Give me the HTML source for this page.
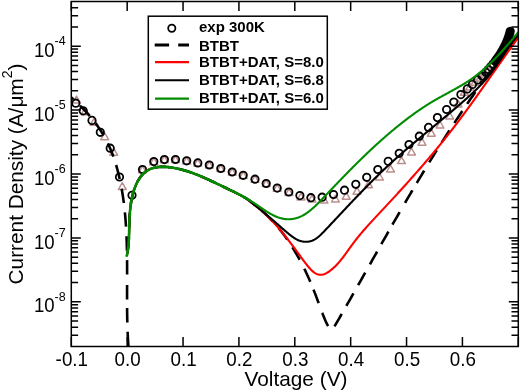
<!DOCTYPE html>
<html><head><meta charset="utf-8"><style>html,body{margin:0;padding:0;background:#fff;overflow:hidden}svg{display:block}</style></head>
<body>
<svg width="520" height="391" viewBox="0 0 520 391">
<rect width="520" height="391" fill="#fff"/>
<defs><clipPath id="cp"><rect x="71.3" y="1.5" width="447" height="345"/></clipPath></defs>
<g clip-path="url(#cp)" fill="none" stroke-linejoin="round">
<path d="M76.5,96.1 L80.4,102.9 L72.6,102.9 Z M85,107.9 L88.9,114.7 L81.1,114.7 Z M94,118.4 L97.9,125.2 L90.1,125.2 Z M104.7,132.9 L108.6,139.7 L100.8,139.7 Z M113.7,148.4 L117.6,155.2 L109.8,155.2 Z M122.3,182.6 L126.2,189.4 L118.4,189.4 Z M142.5,165.9 L146.4,172.7 L138.6,172.7 Z M153.8,157.9 L157.7,164.7 L149.9,164.7 Z M164.4,155.9 L168.3,162.7 L160.5,162.7 Z M175.5,155.8 L179.4,162.6 L171.6,162.6 Z M186.7,157.1 L190.6,163.9 L182.8,163.9 Z M197.8,159.2 L201.7,166 L193.9,166 Z M209.3,161.3 L213.2,168.1 L205.4,168.1 Z M220.8,164.8 L224.7,171.6 L216.9,171.6 Z M232.2,168.3 L236.1,175.1 L228.3,175.1 Z M243.2,171.6 L247.1,178.4 L239.3,178.4 Z M255,175.5 L258.9,182.3 L251.1,182.3 Z M266.2,179.8 L270.1,186.6 L262.3,186.6 Z M277.2,184.4 L281.1,191.2 L273.3,191.2 Z M289,188.6 L292.9,195.4 L285.1,195.4 Z M301,193.1 L304.9,199.9 L297.1,199.9 Z M312,195.2 L315.9,202 L308.1,202 Z M324,196.2 L327.9,203 L320.1,203 Z M335.4,195.2 L339.3,202 L331.5,202 Z M346.2,192.4 L350.1,199.2 L342.3,199.2 Z M357,187.4 L360.9,194.2 L353.1,194.2 Z M368.5,180.9 L372.4,187.7 L364.6,187.7 Z M379.5,173.2 L383.4,180 L375.6,180 Z M390.5,165.1 L394.4,171.9 L386.6,171.9 Z M401.5,156.8 L405.4,163.6 L397.6,163.6 Z M411.5,148.1 L415.4,154.9 L407.6,154.9 Z M422,138.4 L425.9,145.2 L418.1,145.2 Z M431.3,129.4 L435.2,136.2 L427.4,136.2 Z M440,121.2 L443.9,128 L436.1,128 Z M449.7,112.2 L453.6,119 L445.8,119 Z M458,100.1 L461.9,106.9 L454.1,106.9 Z M464.3,88.4 L468.2,95.2 L460.4,95.2 Z M469.8,83.1 L473.7,89.9 L465.9,89.9 Z M475,78.4 L478.9,85.2 L471.1,85.2 Z M480,74.1 L483.9,80.9 L476.1,80.9 Z M484.5,70.1 L488.4,76.9 L480.6,76.9 Z M488.5,65.8 L492.4,72.6 L484.6,72.6 Z M492.2,61.2 L496.1,68 L488.3,68 Z M495.6,56.6 L499.5,63.4 L491.7,63.4 Z M499,52.1 L502.9,58.9 L495.1,58.9 Z M502.5,47.1 L506.4,53.9 L498.6,53.9 Z M505.5,42.1 L509.4,48.9 L501.6,48.9 Z M508,37.1 L511.9,43.9 L504.1,43.9 Z" stroke="#bc8f8f" stroke-width="1.5"/>
<path d="M72.1,103.2 a3.7,3.7 0 1,0 7.4,0 a3.7,3.7 0 1,0 -7.4,0 M79.5,110.8 a3.7,3.7 0 1,0 7.4,0 a3.7,3.7 0 1,0 -7.4,0 M88.3,120.4 a3.7,3.7 0 1,0 7.4,0 a3.7,3.7 0 1,0 -7.4,0 M96.6,132.3 a3.7,3.7 0 1,0 7.4,0 a3.7,3.7 0 1,0 -7.4,0 M106.5,148.2 a3.7,3.7 0 1,0 7.4,0 a3.7,3.7 0 1,0 -7.4,0 M115.8,177 a3.7,3.7 0 1,0 7.4,0 a3.7,3.7 0 1,0 -7.4,0 M128.3,195.3 a3.7,3.7 0 1,0 7.4,0 a3.7,3.7 0 1,0 -7.4,0 M138.8,169.6 a3.7,3.7 0 1,0 7.4,0 a3.7,3.7 0 1,0 -7.4,0 M150.1,161.6 a3.7,3.7 0 1,0 7.4,0 a3.7,3.7 0 1,0 -7.4,0 M160.7,159.6 a3.7,3.7 0 1,0 7.4,0 a3.7,3.7 0 1,0 -7.4,0 M171.8,159.5 a3.7,3.7 0 1,0 7.4,0 a3.7,3.7 0 1,0 -7.4,0 M183,160.8 a3.7,3.7 0 1,0 7.4,0 a3.7,3.7 0 1,0 -7.4,0 M194.1,162.9 a3.7,3.7 0 1,0 7.4,0 a3.7,3.7 0 1,0 -7.4,0 M205.6,165 a3.7,3.7 0 1,0 7.4,0 a3.7,3.7 0 1,0 -7.4,0 M217.1,168.5 a3.7,3.7 0 1,0 7.4,0 a3.7,3.7 0 1,0 -7.4,0 M228.5,172 a3.7,3.7 0 1,0 7.4,0 a3.7,3.7 0 1,0 -7.4,0 M239.5,175.3 a3.7,3.7 0 1,0 7.4,0 a3.7,3.7 0 1,0 -7.4,0 M251.3,179.2 a3.7,3.7 0 1,0 7.4,0 a3.7,3.7 0 1,0 -7.4,0 M262.5,183.5 a3.7,3.7 0 1,0 7.4,0 a3.7,3.7 0 1,0 -7.4,0 M273.5,188.1 a3.7,3.7 0 1,0 7.4,0 a3.7,3.7 0 1,0 -7.4,0 M285.1,192 a3.7,3.7 0 1,0 7.4,0 a3.7,3.7 0 1,0 -7.4,0 M296.2,195.6 a3.7,3.7 0 1,0 7.4,0 a3.7,3.7 0 1,0 -7.4,0 M307.2,197.7 a3.7,3.7 0 1,0 7.4,0 a3.7,3.7 0 1,0 -7.4,0 M318.4,197.2 a3.7,3.7 0 1,0 7.4,0 a3.7,3.7 0 1,0 -7.4,0 M329.8,194.5 a3.7,3.7 0 1,0 7.4,0 a3.7,3.7 0 1,0 -7.4,0 M340.8,190.2 a3.7,3.7 0 1,0 7.4,0 a3.7,3.7 0 1,0 -7.4,0 M352.1,184.3 a3.7,3.7 0 1,0 7.4,0 a3.7,3.7 0 1,0 -7.4,0 M363,177.3 a3.7,3.7 0 1,0 7.4,0 a3.7,3.7 0 1,0 -7.4,0 M374.1,169.5 a3.7,3.7 0 1,0 7.4,0 a3.7,3.7 0 1,0 -7.4,0 M384.5,161.3 a3.7,3.7 0 1,0 7.4,0 a3.7,3.7 0 1,0 -7.4,0 M395.5,153.3 a3.7,3.7 0 1,0 7.4,0 a3.7,3.7 0 1,0 -7.4,0 M405.3,144.5 a3.7,3.7 0 1,0 7.4,0 a3.7,3.7 0 1,0 -7.4,0 M415.6,136.2 a3.7,3.7 0 1,0 7.4,0 a3.7,3.7 0 1,0 -7.4,0 M424.8,127.4 a3.7,3.7 0 1,0 7.4,0 a3.7,3.7 0 1,0 -7.4,0 M433.7,117.6 a3.7,3.7 0 1,0 7.4,0 a3.7,3.7 0 1,0 -7.4,0 M442.9,109.5 a3.7,3.7 0 1,0 7.4,0 a3.7,3.7 0 1,0 -7.4,0 M450.1,102 a3.7,3.7 0 1,0 7.4,0 a3.7,3.7 0 1,0 -7.4,0 M457.2,94.6 a3.7,3.7 0 1,0 7.4,0 a3.7,3.7 0 1,0 -7.4,0 M463.6,88.9 a3.7,3.7 0 1,0 7.4,0 a3.7,3.7 0 1,0 -7.4,0 M468.7,84.4 a3.7,3.7 0 1,0 7.4,0 a3.7,3.7 0 1,0 -7.4,0 M473.8,79.9 a3.7,3.7 0 1,0 7.4,0 a3.7,3.7 0 1,0 -7.4,0 M478.3,76.1 a3.7,3.7 0 1,0 7.4,0 a3.7,3.7 0 1,0 -7.4,0 M482.1,72.3 a3.7,3.7 0 1,0 7.4,0 a3.7,3.7 0 1,0 -7.4,0 M484.52,69.59 a3.7,3.7 0 1,0 7.4,0 a3.7,3.7 0 1,0 -7.4,0 M486.9,66.85 a3.7,3.7 0 1,0 7.4,0 a3.7,3.7 0 1,0 -7.4,0 M489.23,64.05 a3.7,3.7 0 1,0 7.4,0 a3.7,3.7 0 1,0 -7.4,0 M491.48,61.19 a3.7,3.7 0 1,0 7.4,0 a3.7,3.7 0 1,0 -7.4,0 M492.64,59.63 a3.7,3.7 0 1,0 7.4,0 a3.7,3.7 0 1,0 -7.4,0 M493.78,58.05 a3.7,3.7 0 1,0 7.4,0 a3.7,3.7 0 1,0 -7.4,0 M494.48,57.06 a3.7,3.7 0 1,0 7.4,0 a3.7,3.7 0 1,0 -7.4,0 M495.03,56.26 a3.7,3.7 0 1,0 7.4,0 a3.7,3.7 0 1,0 -7.4,0 M495.7,55.25 a3.7,3.7 0 1,0 7.4,0 a3.7,3.7 0 1,0 -7.4,0 M496.36,54.24 a3.7,3.7 0 1,0 7.4,0 a3.7,3.7 0 1,0 -7.4,0 M496.89,53.42 a3.7,3.7 0 1,0 7.4,0 a3.7,3.7 0 1,0 -7.4,0 M497.52,52.39 a3.7,3.7 0 1,0 7.4,0 a3.7,3.7 0 1,0 -7.4,0 M498.03,51.56 a3.7,3.7 0 1,0 7.4,0 a3.7,3.7 0 1,0 -7.4,0 M498.64,50.52 a3.7,3.7 0 1,0 7.4,0 a3.7,3.7 0 1,0 -7.4,0 M499.12,49.68 a3.7,3.7 0 1,0 7.4,0 a3.7,3.7 0 1,0 -7.4,0 M499.71,48.62 a3.7,3.7 0 1,0 7.4,0 a3.7,3.7 0 1,0 -7.4,0 M500.17,47.77 a3.7,3.7 0 1,0 7.4,0 a3.7,3.7 0 1,0 -7.4,0 M500.73,46.69 a3.7,3.7 0 1,0 7.4,0 a3.7,3.7 0 1,0 -7.4,0 M501.16,45.83 a3.7,3.7 0 1,0 7.4,0 a3.7,3.7 0 1,0 -7.4,0 M501.69,44.74 a3.7,3.7 0 1,0 7.4,0 a3.7,3.7 0 1,0 -7.4,0 M502.21,43.65 a3.7,3.7 0 1,0 7.4,0 a3.7,3.7 0 1,0 -7.4,0 M502.6,42.77 a3.7,3.7 0 1,0 7.4,0 a3.7,3.7 0 1,0 -7.4,0 M503.08,41.66 a3.7,3.7 0 1,0 7.4,0 a3.7,3.7 0 1,0 -7.4,0 M503.46,40.76 a3.7,3.7 0 1,0 7.4,0 a3.7,3.7 0 1,0 -7.4,0 M503.9,39.64 a3.7,3.7 0 1,0 7.4,0 a3.7,3.7 0 1,0 -7.4,0 M504.25,38.73 a3.7,3.7 0 1,0 7.4,0 a3.7,3.7 0 1,0 -7.4,0 M504.66,37.59 a3.7,3.7 0 1,0 7.4,0 a3.7,3.7 0 1,0 -7.4,0 M504.98,36.68 a3.7,3.7 0 1,0 7.4,0 a3.7,3.7 0 1,0 -7.4,0 M505.35,35.52 a3.7,3.7 0 1,0 7.4,0 a3.7,3.7 0 1,0 -7.4,0 M505.64,34.59 a3.7,3.7 0 1,0 7.4,0 a3.7,3.7 0 1,0 -7.4,0 M505.98,33.42 a3.7,3.7 0 1,0 7.4,0 a3.7,3.7 0 1,0 -7.4,0 M506.23,32.48 a3.7,3.7 0 1,0 7.4,0 a3.7,3.7 0 1,0 -7.4,0 M506.53,31.29 a3.7,3.7 0 1,0 7.4,0 a3.7,3.7 0 1,0 -7.4,0 M506.53,31.29 a3.7,3.7 0 1,0 7.4,0 a3.7,3.7 0 1,0 -7.4,0" stroke="#000" stroke-width="1.8"/>
<path d="M70.8,97.03 L71.31,97.48 L71.82,97.93 L72.33,98.38 L72.84,98.83 L73.32,99.27 M80.01,105.58 L80.25,105.82 L80.73,106.3 L81.21,106.78 L81.69,107.26 L82.16,107.75 L82.64,108.24 L83.11,108.72 L83.58,109.21 L84.05,109.7 L84.51,110.2 L84.97,110.69 L85.43,111.19 L85.89,111.69 L86.35,112.19 L86.8,112.69 L87.26,113.19 L87.71,113.7 L88.15,114.2 L88.6,114.71 L89.04,115.22 L89.48,115.73 L89.81,116.12 M95.56,123.3 L95.79,123.61 L96.19,124.15 L96.59,124.69 L96.98,125.24 L97.37,125.78 L97.76,126.33 L98.14,126.87 L98.52,127.42 L98.9,127.97 L99.28,128.53 L99.65,129.08 L100.02,129.64 L100.39,130.19 L100.75,130.75 L101.11,131.31 L101.47,131.88 L101.82,132.44 L102.17,133.01 L102.52,133.58 L102.86,134.14 L103.2,134.72 L103.54,135.28 M107.86,143.4 L107.9,143.49 L108.18,144.08 L108.46,144.68 L108.74,145.28 L109.02,145.88 L109.29,146.49 L109.56,147.09 L109.83,147.7 L110.09,148.31 L110.36,148.91 L110.61,149.52 L110.87,150.14 L111.12,150.75 L111.37,151.36 L111.61,151.98 L111.86,152.59 L112.1,153.21 L112.34,153.83 L112.57,154.45 L112.8,155.07 L113.03,155.69 L113.26,156.32 L113.39,156.69 M116.12,165.07 L116.15,165.14 L116.33,165.78 L116.52,166.42 L116.7,167.06 L116.88,167.7 L117.06,168.34 L117.24,168.98 L117.41,169.62 L117.58,170.26 L117.75,170.91 L117.92,171.55 L118.09,172.19 L118.25,172.84 L118.41,173.48 L118.57,174.13 L118.73,174.78 L118.88,175.42 L119.04,176.07 L119.19,176.72 L119.34,177.37 L119.48,178.01 L119.63,178.66 L119.71,179.01 M121.64,188.7 L121.71,189.09 L121.83,189.75 L121.94,190.4 L122.06,191.06 L122.17,191.72 L122.28,192.37 L122.38,193.03 L122.49,193.68 L122.6,194.34 L122.7,195 L122.8,195.66 L122.9,196.31 L123,196.97 L123.09,197.63 L123.19,198.29 L123.28,198.95 L123.38,199.61 L123.47,200.27 L123.56,200.93 L123.64,201.59 L123.73,202.25 L123.82,202.91 L123.82,202.93 M124.88,212.37 L124.93,212.85 L124.99,213.51 L125.05,214.18 L125.12,214.84 L125.18,215.51 L125.23,216.17 L125.29,216.84 L125.35,217.5 L125.4,218.17 L125.46,218.84 L125.51,219.5 L125.56,220.17 L125.62,220.84 L125.67,221.5 L125.71,222.17 L125.76,222.84 L125.81,223.5 L125.85,224.17 L125.9,224.84 L125.94,225.51 L125.98,226.18 L126.02,226.72 M126.51,236.21 L126.51,236.22 L126.53,236.89 L126.56,237.56 L126.59,238.23 L126.61,238.9 L126.64,239.57 L126.66,240.24 L126.68,240.91 L126.71,241.59 L126.73,242.26 L126.75,242.93 L126.77,243.6 L126.79,244.27 L126.81,244.94 L126.82,245.62 L126.84,246.29 L126.86,246.96 L126.87,247.63 L126.89,248.3 L126.9,248.98 L126.92,249.65 L126.93,250.32 L126.94,250.6 M127.06,260.1 L127.07,260.42 L127.07,261.09 L127.08,261.76 L127.08,262.44 L127.09,263.11 L127.09,263.78 L127.09,264.46 L127.1,265.13 L127.1,265.8 L127.1,266.48 L127.1,267.15 L127.11,267.82 L127.11,268.5 L127.11,269.17 L127.11,269.84 L127.11,270.52 L127.11,271.19 L127.11,271.86 L127.11,272.54 L127.11,273.21 L127.11,273.88 L127.11,274.5 M127.09,285.05 L127.09,285.32 L127.08,285.99 L127.08,286.67 L127.08,287.34 L127.08,288.01 L127.08,288.68 L127.07,289.35 L127.07,290.03 L127.07,290.7 L127.07,291.37 L127.07,292.04 L127.07,292.71 L127.07,293.38 L127.06,294.05 L127.06,294.73 L127.06,295.4 L127.06,296.07 L127.06,296.74 L127.06,297.41 L127.06,298.08 L127.06,298.75 L127.06,299.42 L127.06,299.45 M127.1,308.1 L127.1,308.12 L127.1,308.79 L127.11,309.46 L127.12,310.12 L127.12,310.79 L127.13,311.46 L127.14,312.13 L127.15,312.79 L127.15,313.46 L127.16,314.13 L127.17,314.79 L127.18,315.46 L127.19,316.13 L127.2,316.79 L127.22,317.46 L127.23,318.12 L127.24,318.79 L127.25,319.45 L127.27,320.12 L127.28,320.78 L127.3,321.45 L127.31,322.11 L127.32,322.49 M127.62,331.69 L127.63,332.05 L127.66,332.71 L127.69,333.37 L127.72,334.03 L127.75,334.69 L127.78,335.35 L127.81,336.01 L127.84,336.66 L127.88,337.32 L127.91,337.98 L127.95,338.64 L127.98,339.3 L128.02,339.95 L128.06,340.61 L128.1,341.27 L128.14,341.92 L128.18,342.58 L128.22,343.23 L128.26,343.89 L128.31,344.54 L128.35,345.2 L128.4,345.85 L128.42,346.07 M127.64,251.25 L127.66,251.13 L127.75,250.54 L127.84,249.95 L127.92,249.36 L127.99,248.78 L128.07,248.19 L128.14,247.6 L128.21,247 L128.27,246.41 L128.33,245.82 L128.39,245.23 L128.44,244.63 L128.5,244.04 L128.55,243.44 L128.59,242.85 L128.64,242.25 L128.68,241.65 L128.72,241.06 L128.76,240.46 L128.79,239.86 L128.83,239.26 L128.86,238.66 L128.89,238.06 L128.92,237.46 L128.94,236.92 M129.24,227.72 L129.25,227.16 L129.27,226.55 L129.28,225.94 L129.3,225.33 L129.32,224.71 L129.34,224.1 L129.35,223.49 L129.37,222.88 L129.39,222.26 L129.41,221.65 L129.43,221.03 L129.46,220.42 L129.48,219.8 L129.51,219.19 L129.53,218.57 L129.56,217.96 L129.59,217.34 L129.63,216.72 L129.66,216.1 L129.7,215.49 L129.73,214.87 L129.77,214.25 L129.82,213.63 L129.84,213.34 M130.8,204.19 L130.88,203.68 L130.98,203.06 L131.08,202.43 L131.18,201.81 L131.29,201.19 L131.4,200.56 L131.52,199.93 L131.64,199.31 L131.77,198.68 L131.9,198.06 L132.03,197.43 L132.17,196.8 L132.32,196.18 L132.47,195.55 L132.63,194.93 L132.79,194.3 L132.96,193.67 L133.13,193.05 L133.31,192.43 L133.49,191.81 L133.68,191.19 L133.87,190.57 L134,190.17 M137.53,181.68 L137.77,181.23 L138.06,180.7 L138.36,180.17 L138.67,179.65 L138.99,179.13 L139.31,178.62 L139.64,178.13 L139.97,177.64 L140.31,177.16 L140.66,176.69 L141.01,176.22 L141.38,175.77 L141.75,175.33 L142.12,174.9 L142.5,174.48 L142.89,174.07 L143.29,173.67 L143.7,173.28 L144.11,172.9 L144.53,172.54 L144.95,172.18 L145.38,171.84 L145.83,171.52 L146.27,171.2 L146.73,170.9 L146.78,170.86 M155.3,167.53 L155.41,167.51 L155.97,167.4 L156.53,167.31 L157.09,167.22 L157.66,167.14 L158.24,167.08 L158.81,167.02 L159.4,166.96 L159.98,166.92 L160.57,166.89 L161.16,166.86 L161.75,166.84 L162.35,166.83 L162.94,166.83 L163.55,166.84 L164.15,166.85 L164.75,166.87 L165.36,166.9 L165.97,166.93 L166.58,166.97 L167.19,167.02 L167.81,167.07 L168.42,167.13 L169.04,167.2 L169.64,167.27 M178.69,168.9 L178.91,168.95 L179.52,169.1 L180.13,169.25 L180.74,169.4 L181.35,169.56 L181.95,169.71 L182.56,169.88 L183.16,170.04 L183.76,170.21 L184.36,170.38 L184.96,170.56 L185.55,170.73 L186.15,170.91 L186.74,171.1 L187.34,171.28 L187.93,171.47 L188.52,171.66 L189.11,171.86 L189.7,172.05 L190.28,172.25 L190.87,172.46 L191.45,172.66 L192.04,172.87 L192.48,173.02 M201.04,176.38 L201.23,176.46 L201.79,176.7 L202.36,176.94 L202.92,177.18 L203.49,177.43 L204.05,177.67 L204.61,177.92 L205.17,178.17 L205.73,178.42 L206.29,178.67 L206.85,178.92 L207.41,179.17 L207.96,179.43 L208.52,179.68 L209.08,179.94 L209.63,180.19 L210.18,180.45 L210.74,180.71 L211.29,180.96 L211.84,181.22 L212.39,181.48 L212.94,181.74 L213.49,182 L214.04,182.27 L214.16,182.32 M222.45,186.31 L222.76,186.46 L223.3,186.72 L223.85,186.98 L224.39,187.24 L224.93,187.5 L225.47,187.76 L226.01,188.02 L226.55,188.28 L227.08,188.54 L227.62,188.8 L228.16,189.06 L228.7,189.31 L229.24,189.57 L229.77,189.83 L230.31,190.09 L230.85,190.35 L231.38,190.62 L231.92,190.88 L232.45,191.14 L232.99,191.4 L233.52,191.66 L234.06,191.93 L234.59,192.19 L235.13,192.46 L235.4,192.6 M243.56,196.85 L243.81,196.99 L244.33,197.3 L244.85,197.61 L245.38,197.93 L245.9,198.26 L246.42,198.6 L246.94,198.94 L247.45,199.3 L247.97,199.66 L248.48,200.04 L249,200.42 L249.51,200.81 L250.02,201.2 L250.53,201.61 L251.04,202.02 L251.54,202.44 L252.05,202.86 L252.55,203.28 L253.06,203.7 L253.56,204.13 L254.07,204.56 L254.57,204.98 L255.07,205.4 L255.1,205.43 M262.26,211.19 L262.61,211.49 L263.12,211.92 L263.62,212.36 L264.13,212.81 L264.63,213.27 L265.13,213.73 L265.63,214.21 L266.12,214.69 L266.62,215.18 L267.11,215.68 L267.6,216.18 L268.09,216.69 L268.58,217.2 L269.06,217.71 L269.55,218.22 L270.03,218.72 L270.51,219.21 L270.99,219.71 L271.47,220.21 L271.94,220.71 L272.42,221.21 L272.5,221.3 M278.64,228.15 L278.65,228.16 L278.9,228.45 L279.15,228.75 L279.41,229.05 L279.66,229.35 L279.91,229.65 L280.16,229.95 L280.41,230.25 L280.66,230.55 L280.91,230.86 L281.15,231.16 L281.4,231.47 L281.65,231.78 L281.89,232.09 L282.14,232.4 L282.38,232.71 L282.62,233.02 L282.86,233.34 L283.11,233.65 L283.35,233.97 L283.59,234.29 L283.83,234.61 L284.06,234.93 L284.3,235.26 L284.54,235.58 L284.78,235.91 L285.01,236.24 L285.25,236.57 L285.48,236.9 L285.71,237.23 L285.95,237.57 L286.18,237.9 L286.41,238.24 L286.64,238.58 L286.87,238.92 L287.1,239.26 L287.33,239.6 L287.34,239.62 M292.38,247.31 L292.4,247.33 L292.61,247.67 L292.82,248.01 L293.03,248.34 L293.24,248.68 L293.45,249.02 L293.66,249.35 L293.87,249.69 L294.08,250.03 L294.28,250.37 L294.49,250.71 L294.69,251.05 L294.9,251.39 L295.1,251.73 L295.31,252.07 L295.51,252.41 L295.71,252.75 L295.91,253.09 L296.11,253.43 L296.31,253.77 L296.51,254.11 L296.71,254.46 L296.91,254.8 L297.11,255.14 L297.31,255.48 L297.5,255.83 L297.7,256.17 L297.89,256.52 L298.09,256.86 L298.28,257.21 L298.48,257.55 L298.67,257.9 L298.86,258.24 L299.05,258.59 L299.24,258.94 L299.43,259.28 L299.62,259.63 L299.68,259.73 M304.34,268.73 L304.35,268.76 L304.52,269.11 L304.7,269.47 L304.87,269.82 L305.04,270.18 L305.22,270.54 L305.39,270.89 L305.56,271.25 L305.73,271.61 L305.9,271.96 L306.07,272.32 L306.24,272.68 L306.4,273.04 L306.57,273.39 L306.74,273.75 L306.91,274.11 L307.07,274.47 L307.24,274.83 L307.4,275.19 L307.57,275.55 L307.73,275.91 L307.9,276.27 L308.06,276.63 L308.22,276.99 L308.38,277.35 L308.55,277.71 L308.71,278.08 L308.87,278.44 L309.03,278.8 L309.19,279.16 L309.35,279.52 L309.51,279.89 L309.66,280.25 L309.82,280.61 L309.98,280.98 L310.14,281.34 L310.29,281.71 L310.34,281.82 M313.57,289.65 L313.62,289.78 L313.77,290.15 L313.91,290.52 L314.06,290.89 L314.2,291.26 L314.35,291.63 L314.49,292 L314.63,292.37 L314.78,292.74 L314.92,293.11 L315.06,293.48 L315.2,293.85 L315.35,294.23 L315.49,294.6 L315.63,294.97 L315.77,295.34 L315.91,295.72 L316.05,296.09 L316.19,296.46 L316.33,296.84 L316.46,297.21 L316.6,297.58 L316.74,297.96 L316.88,298.33 L317.01,298.71 L317.15,299.08 L317.29,299.45 L317.43,299.83 L317.56,300.2 L317.7,300.58 L317.83,300.95 L317.97,301.33 L318.11,301.7 L318.24,302.08 L318.38,302.45 L318.51,302.83 L318.62,303.13 M322.24,312.91 L322.25,312.92 L322.39,313.29 L322.54,313.66 L322.68,314.04 L322.83,314.41 L322.98,314.78 L323.12,315.14 L323.27,315.51 L323.42,315.88 L323.57,316.25 L323.72,316.62 L323.87,316.99 L324.02,317.35 L324.18,317.72 L324.33,318.09 L324.48,318.45 L324.64,318.82 L324.8,319.18 L324.95,319.55 L325.11,319.91 L325.27,320.28 L325.43,320.64 L325.59,321 L325.76,321.36 L325.92,321.72 L326.08,322.08 L326.25,322.44 L326.42,322.8 L326.59,323.16 L326.76,323.52 L326.93,323.88 L327.1,324.24 L327.27,324.59 L327.45,324.95 L327.62,325.3 L327.8,325.66 L327.98,326.01 L328.02,326.09 M334.5,326.43 L334.63,326.21 L335.07,325.45 L335.52,324.68 L335.96,323.91 L336.41,323.15 L336.85,322.38 L337.3,321.61 L337.74,320.85 L338.18,320.08 L338.63,319.31 L339.07,318.55 L339.51,317.78 L339.96,317.01 L340.4,316.24 L340.84,315.48 L341.28,314.71 L341.71,313.96 M346.34,305.89 L346.58,305.48 L347.02,304.71 L347.46,303.94 L347.9,303.17 L348.34,302.4 L348.78,301.63 L349.22,300.86 L349.65,300.09 L350.09,299.32 L350.53,298.55 L350.97,297.78 L351.41,297.01 L351.85,296.24 L352.29,295.47 L352.73,294.7 L353.16,293.93 L353.47,293.38 M358.11,285.21 L358.41,284.68 L358.85,283.9 L359.29,283.13 L359.73,282.36 L360.16,281.59 L360.6,280.82 L361.04,280.05 L361.47,279.27 L361.91,278.5 L362.35,277.73 L362.78,276.96 L363.22,276.19 L363.65,275.41 L364.09,274.64 L364.53,273.87 L364.96,273.1 L365.2,272.67 M369.96,264.26 L370.2,263.83 L370.64,263.06 L371.07,262.29 L371.51,261.52 L371.94,260.74 L372.38,259.97 L372.82,259.2 L373.25,258.43 L373.69,257.65 L374.13,256.88 L374.56,256.11 L375,255.34 L375.44,254.57 L375.87,253.79 L376.31,253.02 L376.75,252.25 L377.04,251.73 M381.34,244.14 L381.56,243.76 L381.99,242.99 L382.43,242.22 L382.87,241.45 L383.31,240.68 L383.74,239.9 L384.18,239.13 L384.62,238.36 L385.06,237.59 L385.5,236.82 L385.94,236.05 L386.38,235.28 L386.81,234.51 L387.25,233.74 L387.69,232.97 L388.13,232.2 L388.46,231.63 M392.45,224.64 L392.53,224.5 L392.97,223.73 L393.41,222.96 L393.86,222.19 L394.3,221.42 L394.74,220.65 L395.18,219.88 L395.62,219.11 L396.06,218.34 L396.51,217.58 L396.95,216.81 L397.39,216.04 L397.84,215.27 L398.28,214.5 L398.72,213.73 L399.17,212.97 L399.61,212.2 L399.63,212.16 M405.08,202.78 L405.4,202.23 L405.85,201.47 L406.3,200.7 L406.74,199.94 L407.19,199.17 L407.64,198.41 L408.09,197.64 L408.54,196.88 L408.99,196.11 L409.43,195.35 L409.88,194.59 L410.33,193.82 L410.78,193.06 L411.24,192.29 L411.69,191.53 L412.14,190.77 L412.37,190.37 M416.75,183.01 L417.12,182.39 L417.57,181.63 L418.03,180.87 L418.49,180.11 L418.94,179.35 L419.4,178.59 L419.85,177.83 L420.31,177.07 L420.77,176.31 L421.23,175.55 L421.68,174.79 L422.14,174.03 L422.6,173.27 L423.06,172.52 L423.52,171.76 L423.98,171 L424.18,170.67 M429.23,162.43 L429.53,161.93 L430,161.18 L430.46,160.42 L430.93,159.67 L431.39,158.92 L431.86,158.16 L432.33,157.41 L432.79,156.66 L433.26,155.9 L433.73,155.15 L434.2,154.4 L434.67,153.65 L435.14,152.9 L435.61,152.15 L436.08,151.4 L436.55,150.65 L436.83,150.2 M441.71,142.48 L441.75,142.41 L442.23,141.66 L442.71,140.91 L443.18,140.17 L443.66,139.42 L444.14,138.67 L444.62,137.93 L445.09,137.18 L445.57,136.44 L446.05,135.69 L446.53,134.95 L447.01,134.2 L447.49,133.46 L447.98,132.72 L448.46,131.97 L448.94,131.23 L449.42,130.49 L449.5,130.37 M454.36,122.95 L454.76,122.34 L455.25,121.6 L455.74,120.86 L456.23,120.12 L456.72,119.38 L457.21,118.64 L457.7,117.91 L458.19,117.17 L458.69,116.43 L459.18,115.7 L459.67,114.96 L460.17,114.22 L460.66,113.49 L461.15,112.75 L461.65,112.02 L462.15,111.28 L462.36,110.97 M467.19,103.87 L467.63,103.23 L468.13,102.5 L468.64,101.77 L469.14,101.04 L469.64,100.31 L470.15,99.58 L470.65,98.85 L471.16,98.12 L471.66,97.39 L472.17,96.67 L472.68,95.94 L473.18,95.21 L473.69,94.49 L474.2,93.76 L474.71,93.03 L475.22,92.31 L475.41,92.04 M480.73,84.54 L480.86,84.35 L481.38,83.63 L481.9,82.91 L482.41,82.19 L482.93,81.47 L483.45,80.75 L483.97,80.03 L484.49,79.32 L485.01,78.6 L485.53,77.88 L486.06,77.16 L486.58,76.45 L487.1,75.73 L487.62,75.01 L488.15,74.3 L488.67,73.58 L489.19,72.88 M494.67,65.49 L495.02,65.03 L495.55,64.32 L496.09,63.61 L496.62,62.9 L497.16,62.19 L497.69,61.48 L498.23,60.77 L498.77,60.06 L499.3,59.36 L499.84,58.65 L500.38,57.94 L500.92,57.24 L501.46,56.53 L502,55.83 L502.54,55.12 L503.09,54.42 L503.39,54.03 M509.04,46.77 L509.09,46.7 L509.64,46 L510.19,45.3 L510.75,44.61 L511.3,43.91 L511.85,43.21 L512.4,42.51 L512.96,41.82 L513.51,41.12 L514.07,40.43 L514.63,39.73 L515.18,39.04 L515.74,38.34 L516.3,37.65 L516.86,36.96 L517.42,36.26 L517.98,35.57 L518.02,35.52" stroke="#000" stroke-width="2.6" stroke-linecap="butt"/>
<path d="M126.81,255.8 L126.93,255.22 L127.05,254.64 L127.16,254.05 L127.27,253.47 L127.37,252.89 L127.47,252.3 L127.57,251.71 L127.66,251.13 L127.75,250.54 L127.84,249.95 L127.92,249.36 L127.99,248.78 L128.07,248.19 L128.14,247.6 L128.21,247 L128.27,246.41 L128.33,245.82 L128.39,245.23 L128.44,244.63 L128.5,244.04 L128.55,243.44 L128.59,242.85 L128.64,242.25 L128.68,241.65 L128.72,241.06 L128.76,240.46 L128.79,239.86 L128.83,239.26 L128.86,238.66 L128.89,238.06 L128.92,237.46 L128.95,236.86 L128.97,236.26 L129,235.65 L129.02,235.05 L129.04,234.45 L129.06,233.84 L129.08,233.24 L129.1,232.63 L129.12,232.02 L129.14,231.42 L129.16,230.81 L129.17,230.2 L129.19,229.6 L129.2,228.99 L129.22,228.38 L129.24,227.77 L129.25,227.16 L129.27,226.55 L129.28,225.94 L129.3,225.33 L129.32,224.71 L129.34,224.1 L129.35,223.49 L129.37,222.88 L129.39,222.26 L129.41,221.65 L129.43,221.03 L129.46,220.42 L129.48,219.8 L129.51,219.19 L129.53,218.57 L129.56,217.96 L129.59,217.34 L129.63,216.72 L129.66,216.1 L129.7,215.49 L129.73,214.87 L129.77,214.25 L129.82,213.63 L129.86,213.01 L129.91,212.39 L129.96,211.77 L130.01,211.15 L130.06,210.53 L130.12,209.91 L130.18,209.29 L130.25,208.67 L130.31,208.04 L130.38,207.42 L130.46,206.8 L130.53,206.18 L130.61,205.55 L130.7,204.93 L130.79,204.31 L130.88,203.68 L130.98,203.06 L131.08,202.43 L131.18,201.81 L131.29,201.19 L131.4,200.56 L131.52,199.93 L131.64,199.31 L131.77,198.68 L131.9,198.06 L132.03,197.43 L132.17,196.8 L132.32,196.18 L132.47,195.55 L132.63,194.93 L132.79,194.3 L132.96,193.67 L133.13,193.05 L133.31,192.43 L133.49,191.81 L133.68,191.19 L133.87,190.57 L134.07,189.96 L134.28,189.35 L134.49,188.74 L134.7,188.13 L134.92,187.53 L135.15,186.93 L135.39,186.34 L135.63,185.75 L135.87,185.17 L136.12,184.59 L136.38,184.01 L136.65,183.45 L136.92,182.88 L137.19,182.33 L137.48,181.78 L137.77,181.23 L138.06,180.7 L138.36,180.17 L138.67,179.65 L138.99,179.13 L139.31,178.62 L139.64,178.13 L139.97,177.64 L140.31,177.16 L140.66,176.69 L141.01,176.22 L141.38,175.77 L141.75,175.33 L142.12,174.9 L142.5,174.48 L142.89,174.07 L143.29,173.67 L143.7,173.28 L144.11,172.9 L144.53,172.54 L144.95,172.18 L145.38,171.84 L145.83,171.52 L146.27,171.2 L146.73,170.9 L147.19,170.61 L147.66,170.33 L148.13,170.06 L148.62,169.81 L149.11,169.57 L149.6,169.34 L150.1,169.12 L150.61,168.91 L151.12,168.71 L151.64,168.52 L152.16,168.35 L152.69,168.18 L153.22,168.03 L153.76,167.88 L154.31,167.75 L154.86,167.62 L155.41,167.51 L155.97,167.4 L156.53,167.31 L157.09,167.22 L157.66,167.14 L158.24,167.08 L158.81,167.02 L159.4,166.96 L159.98,166.92 L160.57,166.89 L161.16,166.86 L161.75,166.84 L162.35,166.83 L162.94,166.83 L163.55,166.84 L164.15,166.85 L164.75,166.87 L165.36,166.9 L165.97,166.93 L166.58,166.97 L167.19,167.02 L167.81,167.07 L168.42,167.13 L169.04,167.2 L169.65,167.27 L170.27,167.35 L170.89,167.43 L171.51,167.52 L172.13,167.61 L172.75,167.71 L173.37,167.82 L173.98,167.92 L174.6,168.04 L175.22,168.16 L175.84,168.28 L176.46,168.41 L177.07,168.54 L177.69,168.67 L178.3,168.81 L178.91,168.95 L179.52,169.1 L180.13,169.25 L180.74,169.4 L181.35,169.56 L181.95,169.71 L182.56,169.88 L183.16,170.04 L183.76,170.21 L184.36,170.38 L184.96,170.56 L185.55,170.73 L186.15,170.91 L186.74,171.1 L187.34,171.28 L187.93,171.47 L188.52,171.66 L189.11,171.86 L189.7,172.05 L190.28,172.25 L190.87,172.46 L191.45,172.66 L192.04,172.87 L192.62,173.08 L193.2,173.29 L193.78,173.5 L194.36,173.72 L194.94,173.93 L195.52,174.15 L196.09,174.38 L196.67,174.6 L197.24,174.83 L197.81,175.06 L198.38,175.28 L198.95,175.52 L199.52,175.75 L200.09,175.98 L200.66,176.22 L201.23,176.46 L201.79,176.7 L202.36,176.94 L202.92,177.18 L203.49,177.43 L204.05,177.67 L204.61,177.92 L205.17,178.17 L205.73,178.42 L206.29,178.67 L206.85,178.92 L207.41,179.17 L207.96,179.43 L208.52,179.68 L209.08,179.94 L209.63,180.19 L210.18,180.45 L210.74,180.71 L211.29,180.96 L211.84,181.22 L212.39,181.48 L212.94,181.74 L213.49,182 L214.04,182.27 L214.59,182.53 L215.14,182.79 L215.69,183.05 L216.24,183.31 L216.78,183.58 L217.33,183.84 L217.87,184.1 L218.42,184.36 L218.96,184.63 L219.51,184.89 L220.05,185.15 L220.59,185.41 L221.14,185.68 L221.68,185.94 L222.22,186.2 L222.76,186.46 L223.3,186.72 L223.85,186.98 L224.39,187.24 L224.93,187.5 L225.47,187.76 L226.01,188.02 L226.55,188.28 L227.08,188.54 L227.62,188.8 L228.16,189.06 L228.7,189.31 L229.24,189.57 L229.77,189.83 L230.31,190.09 L230.85,190.35 L231.38,190.62 L231.92,190.88 L232.45,191.14 L232.99,191.4 L233.52,191.66 L234.06,191.93 L234.59,192.19 L235.13,192.46 L235.66,192.72 L236.19,192.99 L236.73,193.26 L237.26,193.53 L237.79,193.8 L238.32,194.07 L238.85,194.35 L239.39,194.62 L239.92,194.9 L240.45,195.17 L240.98,195.45 L241.51,195.73 L242.22,196.11 L242.75,196.4 L243.28,196.69 L243.81,196.99 L244.33,197.3 L244.85,197.61 L245.38,197.93 L245.9,198.26 L246.42,198.6 L246.94,198.94 L247.45,199.3 L247.97,199.66 L248.48,200.04 L249,200.42 L249.51,200.81 L250.02,201.2 L250.53,201.61 L251.04,202.02 L251.54,202.44 L252.05,202.86 L252.55,203.28 L253.06,203.7 L253.56,204.13 L254.07,204.56 L254.57,204.98 L255.07,205.4 L255.57,205.82 L256.07,206.23 L256.56,206.63 L257.06,207.02 L257.56,207.41 L258.05,207.8 L258.55,208.19 L259.05,208.58 L259.54,208.98 L260.05,209.39 L260.56,209.8 L261.08,210.22 L261.59,210.64 L262.1,211.06 L262.61,211.49 L263.12,211.92 L263.62,212.36 L264.13,212.81 L264.63,213.27 L265.13,213.73 L265.63,214.21 L266.12,214.69 L266.62,215.18 L267.11,215.68 L267.6,216.18 L268.09,216.69 L268.58,217.2 L269.06,217.71 L269.55,218.22 L270.03,218.72 L270.51,219.21 L270.99,219.71 L271.47,220.21 L271.94,220.71 L272.42,221.21 L272.89,221.72 L273.36,222.22 L273.83,222.73 L274.3,223.24 L274.76,223.75 L275.23,224.27 L275.69,224.78 L276.15,225.3 L276.61,225.82 L277.07,226.34 L277.53,226.86 L277.98,227.39 L278.44,227.91 L278.89,228.44 L279.34,228.96 L279.79,229.49 L280.24,230.02 L280.69,230.56 L281.13,231.09 L281.58,231.62 L282.02,232.16 L282.46,232.7 L282.9,233.23 L283.34,233.77 L283.78,234.31 L284.21,234.85 L284.65,235.39 L285.08,235.94 L285.51,236.48 L285.95,237.02 L286.38,237.57 L286.8,238.11 L287.23,238.66 L287.66,239.2 L288.08,239.75 L288.51,240.3 L288.93,240.85 L289.35,241.4 L289.77,241.95 L290.19,242.5 L290.61,243.05 L291.03,243.6 L291.44,244.15 L291.86,244.7 L292.27,245.25 L292.69,245.8 L293.1,246.35 L293.51,246.9 L293.92,247.45 L294.33,248 L294.74,248.55 L295.15,249.11 L295.55,249.66 L295.96,250.21 L296.36,250.76 L296.77,251.31 L297.17,251.86 L297.57,252.41 L297.97,252.96 L298.37,253.51 L298.77,254.05 L299.17,254.6 L299.57,255.15 L299.96,255.7 L300.36,256.24 L300.75,256.79 L301.15,257.33 L301.54,257.88 L301.94,258.42 L302.34,258.97 L302.74,259.51 L303.14,260.05 L303.54,260.6 L303.95,261.14 L304.36,261.69 L304.77,262.24 L305.19,262.78 L305.61,263.33 L306.04,263.88 L306.48,264.43 L306.92,264.98 L307.37,265.53 L307.82,266.09 L308.29,266.65 L308.76,267.2 L309.24,267.76 L309.73,268.31 L310.22,268.85 L310.72,269.39 L311.24,269.91 L311.76,270.42 L312.28,270.91 L312.82,271.38 L313.36,271.83 L313.91,272.26 L314.46,272.66 L315.03,273.03 L315.6,273.37 L316.18,273.67 L316.76,273.94 L317.35,274.18 L317.94,274.37 L318.54,274.54 L319.15,274.66 L319.75,274.74 L320.36,274.79 L320.96,274.8 L321.57,274.77 L322.17,274.69 L322.77,274.58 L323.37,274.43 L323.97,274.24 L324.56,274.02 L325.15,273.77 L325.74,273.49 L326.32,273.18 L326.9,272.86 L327.47,272.51 L328.03,272.15 L328.59,271.78 L329.15,271.39 L329.69,271 L330.23,270.6 L330.77,270.19 L331.3,269.77 L331.82,269.34 L332.34,268.91 L332.85,268.47 L333.35,268.02 L333.85,267.57 L334.35,267.11 L334.84,266.64 L335.33,266.16 L335.81,265.68 L336.28,265.2 L336.76,264.7 L337.22,264.21 L337.69,263.7 L338.15,263.2 L338.6,262.68 L339.06,262.17 L339.51,261.64 L339.95,261.12 L340.39,260.59 L340.83,260.05 L341.27,259.51 L341.7,258.97 L342.14,258.43 L342.56,257.88 L342.99,257.33 L343.42,256.77 L343.84,256.21 L344.26,255.65 L344.68,255.09 L345.09,254.53 L345.51,253.96 L345.92,253.4 L346.34,252.83 L346.75,252.26 L347.16,251.69 L347.57,251.12 L347.98,250.55 L348.39,249.97 L348.8,249.4 L349.21,248.83 L349.62,248.26 L350.03,247.68 L350.44,247.11 L350.85,246.54 L351.26,245.97 L351.67,245.4 L352.09,244.84 L352.5,244.27 L352.92,243.71 L353.33,243.15 L353.75,242.59 L354.17,242.03 L354.59,241.47 L355.02,240.92 L355.44,240.37 L355.87,239.82 L356.3,239.27 L356.73,238.73 L357.16,238.19 L357.59,237.65 L358.02,237.11 L358.46,236.57 L358.89,236.04 L359.33,235.5 L359.77,234.97 L360.21,234.44 L360.65,233.91 L361.09,233.39 L361.54,232.86 L361.98,232.34 L362.43,231.81 L362.87,231.29 L363.32,230.77 L363.77,230.26 L364.22,229.74 L364.67,229.22 L365.12,228.71 L365.57,228.2 L366.03,227.68 L366.48,227.17 L366.94,226.66 L367.39,226.15 L367.85,225.65 L368.31,225.14 L368.76,224.63 L369.22,224.13 L369.68,223.62 L370.14,223.12 L370.6,222.62 L371.06,222.11 L371.53,221.61 L371.99,221.11 L372.45,220.61 L372.91,220.11 L373.38,219.61 L373.84,219.11 L374.3,218.61 L374.77,218.12 L375.23,217.62 L375.7,217.12 L376.16,216.62 L376.63,216.12 L377.09,215.63 L377.56,215.13 L378.03,214.63 L378.49,214.13 L378.96,213.64 L379.42,213.14 L379.89,212.64 L380.36,212.14 L380.82,211.65 L381.29,211.15 L381.75,210.65 L382.22,210.15 L382.69,209.65 L383.15,209.15 L383.62,208.65 L384.08,208.15 L384.55,207.65 L385.02,207.15 L385.48,206.66 L385.95,206.15 L386.41,205.65 L386.88,205.15 L387.34,204.65 L387.81,204.15 L388.27,203.65 L388.74,203.15 L389.2,202.65 L389.67,202.15 L390.13,201.64 L390.6,201.14 L391.06,200.64 L391.53,200.14 L391.99,199.63 L392.46,199.13 L392.92,198.63 L393.38,198.12 L393.85,197.62 L394.31,197.12 L394.78,196.61 L395.24,196.11 L395.7,195.6 L396.17,195.1 L396.63,194.59 L397.09,194.09 L397.55,193.58 L398.02,193.08 L398.48,192.57 L398.94,192.06 L399.4,191.56 L399.87,191.05 L400.33,190.54 L400.79,190.04 L401.25,189.53 L401.71,189.02 L402.17,188.51 L402.64,188 L403.1,187.5 L403.56,186.99 L404.02,186.48 L404.48,185.97 L404.94,185.46 L405.4,184.95 L405.86,184.44 L406.32,183.93 L406.78,183.42 L407.23,182.91 L407.69,182.4 L408.15,181.89 L408.61,181.37 L409.07,180.86 L409.53,180.35 L409.98,179.84 L410.44,179.32 L410.9,178.81 L411.36,178.3 L411.81,177.79 L412.27,177.27 L412.72,176.76 L413.18,176.24 L413.64,175.73 L414.09,175.21 L414.55,174.7 L415,174.18 L415.46,173.67 L415.91,173.15 L416.36,172.64 L416.82,172.12 L417.27,171.6 L417.73,171.09 L418.18,170.57 L418.63,170.05 L419.08,169.53 L419.53,169.02 L419.99,168.5 L420.44,167.98 L420.89,167.46 L421.34,166.94 L421.79,166.42 L422.24,165.9 L422.69,165.38 L423.14,164.86 L423.59,164.34 L424.04,163.82 L424.49,163.3 L424.93,162.78 L425.38,162.25 L425.83,161.73 L426.28,161.21 L426.72,160.69 L427.17,160.16 L427.61,159.64 L428.06,159.12 L428.51,158.59 L428.95,158.07 L429.39,157.54 L429.84,157.02 L430.28,156.49 L430.73,155.97 L431.17,155.44 L431.61,154.92 L432.05,154.39 L432.5,153.86 L432.94,153.34 L433.38,152.81 L433.82,152.28 L434.26,151.75 L434.7,151.22 L435.14,150.69 L435.58,150.17 L436.01,149.64 L436.45,149.11 L436.89,148.58 L437.33,148.05 L437.76,147.51 L438.2,146.98 L438.64,146.45 L439.07,145.92 L439.51,145.39 L439.94,144.86 L440.38,144.32 L440.81,143.79 L441.24,143.26 L441.67,142.72 L442.11,142.19 L442.54,141.65 L442.97,141.12 L443.4,140.58 L443.83,140.05 L444.26,139.51 L444.69,138.98 L445.12,138.44 L445.55,137.9 L445.97,137.36 L446.4,136.83 L446.83,136.29 L447.25,135.75 L447.68,135.21 L448.11,134.67 L448.53,134.13 L448.95,133.59 L449.38,133.05 L449.8,132.51 L450.22,131.97 L450.65,131.43 L451.07,130.89 L451.49,130.35 L451.91,129.8 L452.33,129.26 L452.75,128.72 L453.17,128.17 L453.59,127.63 L454,127.09 L454.42,126.54 L454.84,126 L455.26,125.45 L455.67,124.91 L456.09,124.36 L456.5,123.81 L456.92,123.27 L457.33,122.72 L457.74,122.17 L458.16,121.63 L458.57,121.08 L458.98,120.53 L459.4,119.98 L459.81,119.43 L460.22,118.89 L460.63,118.34 L461.04,117.79 L461.45,117.24 L461.86,116.69 L462.27,116.14 L462.68,115.59 L463.08,115.04 L463.49,114.48 L463.9,113.93 L464.31,113.38 L464.71,112.83 L465.12,112.28 L465.53,111.73 L465.93,111.17 L466.34,110.62 L466.74,110.07 L467.15,109.51 L467.55,108.96 L467.96,108.41 L468.36,107.85 L468.76,107.3 L469.17,106.74 L469.57,106.19 L469.97,105.63 L470.37,105.08 L470.78,104.52 L471.18,103.97 L471.58,103.41 L471.98,102.86 L472.38,102.3 L472.78,101.74 L473.18,101.19 L473.58,100.63 L473.98,100.07 L474.38,99.52 L474.78,98.96 L475.18,98.4 L475.58,97.85 L475.98,97.29 L476.38,96.73 L476.77,96.17 L477.17,95.61 L477.57,95.06 L477.97,94.5 L478.36,93.94 L478.76,93.38 L479.16,92.82 L479.56,92.26 L479.95,91.7 L480.35,91.14 L480.74,90.59 L481.14,90.03 L481.54,89.47 L481.93,88.91 L482.33,88.35 L482.72,87.79 L483.12,87.23 L483.51,86.67 L483.91,86.11 L484.3,85.55 L484.7,84.99 L485.09,84.43 L485.49,83.86 L485.88,83.3 L486.28,82.74 L486.67,82.18 L487.07,81.62 L487.46,81.06 L487.85,80.5 L488.25,79.94 L488.64,79.38 L489.04,78.82 L489.43,78.26 L489.82,77.69 L490.22,77.13 L490.61,76.57 L491.01,76.01 L491.4,75.45 L491.79,74.89 L492.19,74.33 L492.58,73.76 L492.97,73.2 L493.37,72.64 L493.76,72.08 L494.15,71.52 L494.55,70.96 L494.94,70.4 L495.33,69.83 L495.73,69.27 L496.12,68.71 L496.52,68.15 L496.91,67.59 L497.3,67.03 L497.7,66.47 L498.09,65.9 L498.48,65.34 L498.88,64.78 L499.27,64.22 L499.67,63.66 L500.06,63.1 L500.46,62.54 L500.85,61.97 L501.24,61.41 L501.64,60.85 L502.03,60.29 L502.43,59.73 L502.82,59.17 L503.22,58.61 L503.61,58.05 L504.01,57.49 L504.4,56.93 L504.8,56.37 L505.19,55.81 L505.59,55.25 L505.99,54.69 L506.38,54.13 L506.78,53.57 L507.18,53.01 L507.57,52.45 L507.97,51.89 L508.37,51.33 L508.76,50.77 L509.16,50.21 L509.56,49.65 L509.96,49.09 L510.35,48.53 L510.75,47.97 L511.15,47.41 L511.55,46.85 L511.95,46.29 L512.35,45.74 L512.75,45.18 L513.15,44.62 L513.55,44.06 L513.95,43.5 L514.35,42.95 L514.75,42.39 L515.15,41.83 L515.55,41.28 L515.95,40.72 L516.35,40.16 L516.75,39.61 L517.16,39.05 L517.56,38.49 L517.96,37.94 L518.36,37.38 L518.77,36.83" stroke="#ff0000" stroke-width="2.1"/>
<path d="M126.81,255.8 L126.93,255.22 L127.05,254.64 L127.16,254.05 L127.27,253.47 L127.37,252.89 L127.47,252.3 L127.57,251.71 L127.66,251.13 L127.75,250.54 L127.84,249.95 L127.92,249.36 L127.99,248.78 L128.07,248.19 L128.14,247.6 L128.21,247 L128.27,246.41 L128.33,245.82 L128.39,245.23 L128.44,244.63 L128.5,244.04 L128.55,243.44 L128.59,242.85 L128.64,242.25 L128.68,241.65 L128.72,241.06 L128.76,240.46 L128.79,239.86 L128.83,239.26 L128.86,238.66 L128.89,238.06 L128.92,237.46 L128.95,236.86 L128.97,236.26 L129,235.65 L129.02,235.05 L129.04,234.45 L129.06,233.84 L129.08,233.24 L129.1,232.63 L129.12,232.02 L129.14,231.42 L129.16,230.81 L129.17,230.2 L129.19,229.6 L129.2,228.99 L129.22,228.38 L129.24,227.77 L129.25,227.16 L129.27,226.55 L129.28,225.94 L129.3,225.33 L129.32,224.71 L129.34,224.1 L129.35,223.49 L129.37,222.88 L129.39,222.26 L129.41,221.65 L129.43,221.03 L129.46,220.42 L129.48,219.8 L129.51,219.19 L129.53,218.57 L129.56,217.96 L129.59,217.34 L129.63,216.72 L129.66,216.1 L129.7,215.49 L129.73,214.87 L129.77,214.25 L129.82,213.63 L129.86,213.01 L129.91,212.39 L129.96,211.77 L130.01,211.15 L130.06,210.53 L130.12,209.91 L130.18,209.29 L130.25,208.67 L130.31,208.04 L130.38,207.42 L130.46,206.8 L130.53,206.18 L130.61,205.55 L130.7,204.93 L130.79,204.31 L130.88,203.68 L130.98,203.06 L131.08,202.43 L131.18,201.81 L131.29,201.19 L131.4,200.56 L131.52,199.93 L131.64,199.31 L131.77,198.68 L131.9,198.06 L132.03,197.43 L132.17,196.8 L132.32,196.18 L132.47,195.55 L132.63,194.93 L132.79,194.3 L132.96,193.67 L133.13,193.05 L133.31,192.43 L133.49,191.81 L133.68,191.19 L133.87,190.57 L134.07,189.96 L134.28,189.35 L134.49,188.74 L134.7,188.13 L134.92,187.53 L135.15,186.93 L135.39,186.34 L135.63,185.75 L135.87,185.17 L136.12,184.59 L136.38,184.01 L136.65,183.45 L136.92,182.88 L137.19,182.33 L137.48,181.78 L137.77,181.23 L138.06,180.7 L138.36,180.17 L138.67,179.65 L138.99,179.13 L139.31,178.62 L139.64,178.13 L139.97,177.64 L140.31,177.16 L140.66,176.69 L141.01,176.22 L141.38,175.77 L141.75,175.33 L142.12,174.9 L142.5,174.48 L142.89,174.07 L143.29,173.67 L143.7,173.28 L144.11,172.9 L144.53,172.54 L144.95,172.18 L145.38,171.84 L145.83,171.52 L146.27,171.2 L146.73,170.9 L147.19,170.61 L147.66,170.33 L148.13,170.06 L148.62,169.81 L149.11,169.57 L149.6,169.34 L150.1,169.12 L150.61,168.91 L151.12,168.71 L151.64,168.52 L152.16,168.35 L152.69,168.18 L153.22,168.03 L153.76,167.88 L154.31,167.75 L154.86,167.62 L155.41,167.51 L155.97,167.4 L156.53,167.31 L157.09,167.22 L157.66,167.14 L158.24,167.08 L158.81,167.02 L159.4,166.96 L159.98,166.92 L160.57,166.89 L161.16,166.86 L161.75,166.84 L162.35,166.83 L162.94,166.83 L163.55,166.84 L164.15,166.85 L164.75,166.87 L165.36,166.9 L165.97,166.93 L166.58,166.97 L167.19,167.02 L167.81,167.07 L168.42,167.13 L169.04,167.2 L169.65,167.27 L170.27,167.35 L170.89,167.43 L171.51,167.52 L172.13,167.61 L172.75,167.71 L173.37,167.82 L173.98,167.92 L174.6,168.04 L175.22,168.16 L175.84,168.28 L176.46,168.41 L177.07,168.54 L177.69,168.67 L178.3,168.81 L178.91,168.95 L179.52,169.1 L180.13,169.25 L180.74,169.4 L181.35,169.56 L181.95,169.71 L182.56,169.88 L183.16,170.04 L183.76,170.21 L184.36,170.38 L184.96,170.56 L185.55,170.73 L186.15,170.91 L186.74,171.1 L187.34,171.28 L187.93,171.47 L188.52,171.66 L189.11,171.86 L189.7,172.05 L190.28,172.25 L190.87,172.46 L191.45,172.66 L192.04,172.87 L192.62,173.08 L193.2,173.29 L193.78,173.5 L194.36,173.72 L194.94,173.93 L195.52,174.15 L196.09,174.38 L196.67,174.6 L197.24,174.83 L197.81,175.06 L198.38,175.28 L198.95,175.52 L199.52,175.75 L200.09,175.98 L200.66,176.22 L201.23,176.46 L201.79,176.7 L202.36,176.94 L202.92,177.18 L203.49,177.43 L204.05,177.67 L204.61,177.92 L205.17,178.17 L205.73,178.42 L206.29,178.67 L206.85,178.92 L207.41,179.17 L207.96,179.43 L208.52,179.68 L209.08,179.94 L209.63,180.19 L210.18,180.45 L210.74,180.71 L211.29,180.96 L211.84,181.22 L212.39,181.48 L212.94,181.74 L213.49,182 L214.04,182.27 L214.59,182.53 L215.14,182.79 L215.69,183.05 L216.24,183.31 L216.78,183.58 L217.33,183.84 L217.87,184.1 L218.42,184.36 L218.96,184.63 L219.51,184.89 L220.05,185.15 L220.59,185.41 L221.14,185.68 L221.68,185.94 L222.22,186.2 L222.76,186.46 L223.3,186.72 L223.85,186.98 L224.39,187.24 L224.93,187.5 L225.47,187.76 L226.01,188.02 L226.55,188.28 L227.08,188.54 L227.62,188.8 L228.16,189.06 L228.7,189.31 L229.24,189.57 L229.77,189.83 L230.31,190.09 L230.85,190.35 L231.38,190.62 L231.92,190.88 L232.45,191.14 L232.99,191.4 L233.52,191.66 L234.06,191.93 L234.59,192.19 L235.13,192.46 L235.66,192.72 L236.19,192.99 L236.73,193.26 L237.26,193.53 L237.79,193.8 L238.32,194.07 L238.85,194.35 L239.39,194.62 L239.92,194.9 L240.45,195.17 L240.98,195.45 L241.51,195.73 L242.22,196.11 L242.75,196.4 L243.28,196.69 L243.81,196.99 L244.33,197.3 L244.85,197.61 L245.38,197.93 L245.9,198.26 L246.42,198.6 L246.94,198.94 L247.45,199.3 L247.97,199.66 L248.48,200.04 L249,200.42 L249.51,200.81 L250.02,201.2 L250.53,201.61 L251.04,202.02 L251.54,202.44 L252.05,202.86 L252.55,203.28 L253.06,203.7 L253.56,204.13 L254.07,204.56 L254.57,204.98 L255.07,205.4 L255.57,205.82 L256.07,206.23 L256.56,206.63 L257.06,207.02 L257.56,207.41 L258.05,207.8 L258.55,208.19 L259.05,208.58 L259.54,208.98 L260.03,209.37 L260.53,209.77 L261.02,210.17 L261.51,210.57 L262,210.97 L262.49,211.37 L262.99,211.78 L263.48,212.18 L263.97,212.59 L264.46,212.99 L264.95,213.4 L265.44,213.81 L265.93,214.22 L266.41,214.63 L266.9,215.04 L267.39,215.46 L267.88,215.87 L268.37,216.29 L268.86,216.7 L269.35,217.12 L269.84,217.54 L270.33,217.96 L270.82,218.38 L271.31,218.8 L271.79,219.22 L272.28,219.65 L272.77,220.07 L273.26,220.5 L273.76,220.92 L274.25,221.35 L274.74,221.77 L275.23,222.2 L275.72,222.63 L276.21,223.06 L276.71,223.49 L277.2,223.92 L277.69,224.35 L278.19,224.78 L278.68,225.21 L279.18,225.65 L279.68,226.08 L280.17,226.51 L280.67,226.95 L281.17,227.38 L281.67,227.82 L282.17,228.25 L282.67,228.69 L283.17,229.12 L283.68,229.56 L284.18,230 L284.69,230.43 L285.19,230.87 L285.7,231.31 L286.21,231.74 L286.72,232.18 L287.23,232.62 L287.74,233.05 L288.25,233.48 L288.77,233.9 L289.28,234.33 L289.8,234.74 L290.32,235.15 L290.84,235.56 L291.37,235.96 L291.89,236.35 L292.42,236.73 L292.95,237.1 L293.48,237.47 L294.02,237.82 L294.55,238.17 L295.09,238.5 L295.63,238.82 L296.18,239.12 L296.73,239.42 L297.28,239.69 L297.83,239.96 L298.39,240.2 L298.95,240.44 L299.51,240.65 L300.07,240.85 L300.64,241.03 L301.21,241.19 L301.79,241.33 L302.37,241.45 L302.94,241.56 L303.52,241.65 L304.1,241.71 L304.68,241.76 L305.26,241.79 L305.84,241.81 L306.42,241.8 L307,241.77 L307.57,241.73 L308.14,241.67 L308.71,241.58 L309.28,241.48 L309.84,241.36 L310.4,241.22 L310.95,241.06 L311.5,240.88 L312.05,240.68 L312.58,240.46 L313.12,240.23 L313.64,239.97 L314.16,239.7 L314.68,239.41 L315.19,239.11 L315.7,238.79 L316.2,238.45 L316.7,238.11 L317.19,237.75 L317.68,237.37 L318.17,236.99 L318.65,236.59 L319.13,236.19 L319.61,235.77 L320.09,235.34 L320.56,234.91 L321.02,234.47 L321.49,234.02 L321.95,233.57 L322.42,233.11 L322.88,232.64 L323.34,232.17 L323.79,231.7 L324.25,231.23 L324.7,230.75 L325.16,230.27 L325.61,229.79 L326.06,229.31 L326.51,228.83 L326.97,228.35 L327.42,227.87 L327.87,227.39 L328.32,226.91 L328.77,226.44 L329.22,225.96 L329.67,225.48 L330.12,225 L330.56,224.52 L331.01,224.05 L331.46,223.57 L331.91,223.09 L332.35,222.62 L332.8,222.14 L333.25,221.67 L333.69,221.19 L334.14,220.72 L334.58,220.24 L335.03,219.77 L335.48,219.29 L335.92,218.82 L336.36,218.34 L336.81,217.87 L337.25,217.4 L337.7,216.92 L338.14,216.45 L338.58,215.98 L339.03,215.51 L339.47,215.03 L339.91,214.56 L340.35,214.09 L340.8,213.62 L341.24,213.15 L341.68,212.68 L342.12,212.21 L342.56,211.74 L343,211.27 L343.45,210.8 L343.89,210.33 L344.33,209.86 L344.77,209.4 L345.21,208.93 L345.65,208.46 L346.09,207.99 L346.53,207.53 L346.97,207.06 L347.41,206.59 L347.85,206.13 L348.29,205.66 L348.73,205.2 L349.17,204.73 L349.61,204.27 L350.05,203.8 L350.49,203.34 L350.93,202.87 L351.37,202.41 L351.81,201.95 L352.25,201.48 L352.69,201.02 L353.13,200.56 L353.57,200.1 L354.01,199.64 L354.45,199.17 L354.89,198.71 L355.33,198.25 L355.77,197.79 L356.21,197.33 L356.65,196.87 L357.09,196.41 L357.53,195.96 L357.97,195.5 L358.41,195.04 L358.85,194.58 L359.29,194.12 L359.73,193.67 L360.17,193.21 L360.62,192.75 L361.06,192.3 L361.5,191.84 L361.94,191.39 L362.38,190.93 L362.82,190.48 L363.27,190.02 L363.71,189.57 L364.15,189.12 L364.59,188.66 L365.04,188.21 L365.48,187.76 L365.92,187.31 L366.37,186.86 L366.81,186.4 L367.25,185.95 L367.7,185.5 L368.14,185.05 L368.59,184.6 L369.03,184.16 L369.48,183.71 L369.93,183.26 L370.37,182.81 L370.82,182.36 L371.26,181.92 L371.71,181.47 L372.16,181.02 L372.61,180.58 L373.06,180.13 L373.5,179.69 L373.95,179.24 L374.4,178.8 L374.85,178.35 L375.3,177.91 L375.75,177.47 L376.2,177.02 L376.65,176.58 L377.11,176.14 L377.56,175.7 L378.01,175.26 L378.46,174.81 L378.92,174.37 L379.37,173.93 L379.82,173.49 L380.28,173.06 L380.73,172.62 L381.19,172.18 L381.65,171.74 L382.1,171.3 L382.56,170.87 L383.02,170.43 L383.47,169.99 L383.93,169.56 L384.39,169.12 L384.85,168.69 L385.31,168.26 L385.77,167.82 L386.23,167.39 L386.7,166.95 L387.16,166.52 L387.62,166.09 L388.09,165.66 L388.55,165.23 L389.02,164.8 L389.48,164.37 L389.95,163.94 L390.41,163.51 L390.88,163.08 L391.35,162.65 L391.82,162.22 L392.29,161.79 L392.76,161.37 L393.23,160.94 L393.7,160.51 L394.17,160.09 L394.64,159.66 L395.11,159.24 L395.59,158.81 L396.06,158.39 L396.54,157.97 L397.01,157.54 L397.49,157.12 L397.96,156.7 L398.44,156.27 L398.91,155.85 L399.39,155.43 L399.87,155.01 L400.35,154.59 L400.83,154.17 L401.3,153.75 L401.78,153.33 L402.26,152.91 L402.74,152.49 L403.23,152.07 L403.71,151.65 L404.19,151.23 L404.67,150.81 L405.15,150.4 L405.64,149.98 L406.12,149.56 L406.6,149.14 L407.09,148.73 L407.57,148.31 L408.06,147.9 L408.54,147.48 L409.03,147.06 L409.51,146.65 L410,146.23 L410.49,145.82 L410.97,145.4 L411.46,144.99 L411.95,144.58 L412.43,144.16 L412.92,143.75 L413.41,143.34 L413.9,142.92 L414.39,142.51 L414.88,142.1 L415.37,141.68 L415.86,141.27 L416.35,140.86 L416.84,140.45 L417.33,140.04 L417.82,139.62 L418.31,139.21 L418.8,138.8 L419.29,138.39 L419.78,137.98 L420.27,137.57 L420.76,137.16 L421.25,136.75 L421.75,136.33 L422.24,135.92 L422.73,135.51 L423.22,135.1 L423.71,134.69 L424.21,134.28 L424.7,133.87 L425.19,133.46 L425.68,133.05 L426.18,132.64 L426.67,132.23 L427.16,131.83 L427.66,131.42 L428.15,131.01 L428.64,130.6 L429.14,130.19 L429.63,129.78 L430.12,129.37 L430.62,128.96 L431.11,128.55 L431.6,128.14 L432.1,127.73 L432.59,127.32 L433.08,126.91 L433.58,126.51 L434.07,126.1 L434.56,125.69 L435.06,125.28 L435.55,124.87 L436.04,124.46 L436.54,124.05 L437.03,123.64 L437.52,123.23 L438.01,122.82 L438.51,122.41 L439,122.01 L439.49,121.6 L439.98,121.19 L440.48,120.78 L440.97,120.37 L441.46,119.96 L441.95,119.55 L442.44,119.14 L442.94,118.73 L443.43,118.32 L443.92,117.91 L444.41,117.5 L444.9,117.09 L445.39,116.68 L445.88,116.27 L446.37,115.86 L446.86,115.45 L447.35,115.03 L447.84,114.62 L448.33,114.21 L448.82,113.8 L449.31,113.39 L449.8,112.98 L450.29,112.57 L450.77,112.15 L451.26,111.74 L451.75,111.33 L452.24,110.92 L452.72,110.5 L453.21,110.09 L453.7,109.68 L454.18,109.27 L454.67,108.85 L455.15,108.44 L455.64,108.02 L456.12,107.61 L456.61,107.2 L457.09,106.78 L457.58,106.37 L458.06,105.95 L458.54,105.54 L459.02,105.12 L459.51,104.7 L459.99,104.29 L460.47,103.87 L460.95,103.45 L461.43,103.04 L461.91,102.62 L462.39,102.2 L462.87,101.79 L463.35,101.37 L463.82,100.95 L464.3,100.53 L464.78,100.11 L465.25,99.69 L465.73,99.27 L466.2,98.85 L466.68,98.43 L467.15,98.01 L467.62,97.58 L468.1,97.16 L468.57,96.74 L469.04,96.31 L469.51,95.88 L469.98,95.46 L470.44,95.03 L470.91,94.6 L471.38,94.17 L471.84,93.74 L472.3,93.31 L472.77,92.88 L473.23,92.45 L473.69,92.01 L474.14,91.58 L474.6,91.14 L475.06,90.7 L475.51,90.26 L475.97,89.82 L476.42,89.38 L476.87,88.94 L477.32,88.49 L477.77,88.05 L478.21,87.6 L478.66,87.15 L479.1,86.7 L479.54,86.25 L479.98,85.8 L480.42,85.34 L480.86,84.88 L481.29,84.42 L481.73,83.96 L482.16,83.5 L482.59,83.04 L483.02,82.57 L483.44,82.1 L483.87,81.63 L484.29,81.16 L484.71,80.69 L485.13,80.21 L485.55,79.74 L485.96,79.26 L486.37,78.77 L486.78,78.29 L487.19,77.8 L487.59,77.31 L488,76.82 L488.4,76.33 L488.8,75.84 L489.2,75.34 L489.59,74.84 L489.99,74.34 L490.38,73.84 L490.77,73.33 L491.16,72.82 L491.54,72.32 L491.93,71.81 L492.31,71.29 L492.69,70.78 L493.07,70.27 L493.45,69.75 L493.83,69.23 L494.21,68.71 L494.58,68.19 L494.95,67.67 L495.33,67.15 L495.7,66.63 L496.07,66.1 L496.44,65.58 L496.8,65.05 L497.17,64.52 L497.53,63.99 L497.9,63.46 L498.26,62.93 L498.63,62.4 L498.99,61.87 L499.35,61.34 L499.71,60.8 L500.07,60.27 L500.43,59.74 L500.79,59.2 L501.15,58.67 L501.5,58.13 L501.86,57.6 L502.22,57.06 L502.57,56.52 L502.93,55.99 L503.29,55.45 L503.64,54.92 L504,54.38 L504.35,53.84 L504.71,53.31 L505.06,52.77 L505.42,52.24 L505.78,51.7 L506.13,51.16 L506.49,50.63 L506.84,50.1 L507.2,49.56 L507.56,49.03 L507.91,48.5 L508.27,47.96 L508.63,47.43 L508.99,46.9 L509.34,46.37 L509.7,45.84 L510.06,45.31 L510.42,44.79 L510.79,44.26 L511.15,43.73 L511.51,43.21 L511.87,42.69 L512.24,42.17 L512.6,41.64 L512.97,41.13 L513.34,40.61 L513.71,40.09 L514.08,39.58 L514.45,39.06 L514.82,38.55 L515.19,38.04 L515.57,37.53 L515.94,37.02 L516.32,36.52 L516.7,36.01 L517.08,35.51 L517.46,35.01 L517.84,34.51 L518.23,34.02 L518.61,33.52 L519,33.03" stroke="#000" stroke-width="2.1"/>
<path d="M248.9,199.86 L249.42,200.17 L249.95,200.49 L250.47,200.8 L251,201.12 L251.52,201.45 L252.05,201.77 L252.57,202.1 L253.1,202.43 L253.62,202.76 L254.14,203.1 L254.67,203.44 L255.19,203.78 L255.71,204.13 L256.23,204.48 L256.76,204.83 L257.28,205.18 L257.8,205.54 L258.32,205.89 L258.84,206.25 L259.37,206.61 L259.89,206.97 L260.41,207.33 L260.94,207.69 L261.46,208.04 L261.98,208.4 L262.51,208.76 L263.03,209.11 L263.56,209.47 L264.08,209.82 L264.61,210.17 L265.14,210.52 L265.67,210.86 L266.2,211.21 L266.73,211.54 L267.26,211.88 L267.79,212.21 L268.32,212.54 L268.86,212.86 L269.39,213.18 L269.93,213.49 L270.47,213.8 L271,214.1 L271.54,214.4 L272.09,214.69 L272.63,214.97 L273.17,215.24 L273.72,215.51 L274.27,215.77 L274.82,216.03 L275.37,216.27 L275.92,216.51 L276.48,216.74 L277.03,216.96 L277.59,217.17 L278.15,217.37 L278.71,217.57 L279.27,217.75 L279.84,217.92 L280.4,218.09 L280.97,218.24 L281.53,218.38 L282.1,218.52 L282.67,218.64 L283.24,218.75 L283.81,218.85 L284.38,218.94 L284.95,219.02 L285.52,219.09 L286.09,219.14 L286.66,219.19 L287.23,219.22 L287.8,219.24 L288.37,219.25 L288.93,219.24 L289.5,219.23 L290.07,219.2 L290.64,219.16 L291.2,219.11 L291.76,219.05 L292.33,218.97 L292.89,218.89 L293.45,218.79 L294.01,218.69 L294.56,218.57 L295.11,218.44 L295.67,218.3 L296.22,218.15 L296.76,217.99 L297.31,217.82 L297.85,217.64 L298.39,217.45 L298.93,217.25 L299.46,217.04 L299.99,216.82 L300.52,216.59 L301.04,216.35 L301.56,216.1 L302.08,215.84 L302.59,215.57 L303.11,215.29 L303.62,215.01 L304.12,214.72 L304.63,214.42 L305.13,214.11 L305.63,213.79 L306.12,213.47 L306.62,213.13 L307.11,212.8 L307.6,212.45 L308.08,212.1 L308.57,211.74 L309.05,211.38 L309.53,211 L310.01,210.63 L310.48,210.24 L310.95,209.86 L311.43,209.46 L311.9,209.06 L312.36,208.66 L312.83,208.25 L313.29,207.84 L313.76,207.42 L314.22,207 L314.68,206.58 L315.13,206.15 L315.59,205.72 L316.05,205.28 L316.5,204.84 L316.95,204.4 L317.4,203.96 L317.85,203.51 L318.3,203.06 L318.75,202.61 L319.19,202.16 L319.64,201.7 L320.08,201.24 L320.53,200.79 L320.97,200.33 L321.41,199.87 L321.85,199.41 L322.29,198.94 L322.73,198.48 L323.17,198.02 L323.61,197.56 L324.05,197.1 L324.48,196.64 L324.92,196.18 L325.36,195.72 L325.8,195.26 L326.23,194.8 L326.67,194.34 L327.1,193.88 L327.54,193.42 L327.97,192.97 L328.41,192.51 L328.84,192.05 L329.27,191.6 L329.71,191.14 L330.14,190.69 L330.57,190.23 L331.01,189.78 L331.44,189.33 L331.87,188.87 L332.3,188.42 L332.73,187.97 L333.16,187.52 L333.59,187.07 L334.02,186.62 L334.45,186.17 L334.88,185.72 L335.31,185.27 L335.74,184.82 L336.17,184.37 L336.6,183.93 L337.03,183.48 L337.46,183.03 L337.89,182.59 L338.32,182.14 L338.74,181.7 L339.17,181.25 L339.6,180.81 L340.03,180.37 L340.46,179.92 L340.88,179.48 L341.31,179.04 L341.74,178.6 L342.17,178.16 L342.59,177.72 L343.02,177.28 L343.45,176.84 L343.87,176.4 L344.3,175.96 L344.73,175.52 L345.15,175.08 L345.58,174.65 L346.01,174.21 L346.43,173.77 L346.86,173.34 L347.29,172.9 L347.71,172.47 L348.14,172.03 L348.56,171.6 L348.99,171.17 L349.42,170.73 L349.84,170.3 L350.27,169.87 L350.7,169.44 L351.12,169.01 L351.55,168.58 L351.98,168.15 L352.4,167.72 L352.83,167.29 L353.26,166.86 L353.69,166.43 L354.11,166 L354.54,165.57 L354.97,165.15 L355.4,164.72 L355.82,164.3 L356.25,163.87 L356.68,163.45 L357.11,163.02 L357.54,162.6 L357.96,162.17 L358.39,161.75 L358.82,161.33 L359.25,160.91 L359.68,160.48 L360.11,160.06 L360.54,159.64 L360.97,159.22 L361.4,158.8 L361.83,158.38 L362.26,157.96 L362.69,157.54 L363.12,157.13 L363.55,156.71 L363.99,156.29 L364.42,155.87 L364.85,155.46 L365.28,155.04 L365.72,154.63 L366.15,154.21 L366.58,153.8 L367.02,153.38 L367.45,152.97 L367.88,152.56 L368.32,152.14 L368.75,151.73 L369.19,151.32 L369.63,150.91 L370.06,150.5 L370.5,150.09 L370.94,149.68 L371.37,149.27 L371.81,148.86 L372.25,148.45 L372.69,148.04 L373.13,147.63 L373.57,147.23 L374.01,146.82 L374.45,146.41 L374.89,146.01 L375.33,145.6 L375.77,145.2 L376.22,144.79 L376.66,144.39 L377.1,143.98 L377.55,143.58 L377.99,143.18 L378.44,142.78 L378.88,142.37 L379.33,141.97 L379.77,141.57 L380.22,141.17 L380.67,140.77 L381.12,140.37 L381.57,139.97 L382.02,139.57 L382.47,139.17 L382.92,138.77 L383.37,138.38 L383.82,137.98 L384.27,137.58 L384.73,137.19 L385.18,136.79 L385.63,136.39 L386.09,136 L386.55,135.61 L387,135.21 L387.46,134.82 L387.92,134.42 L388.38,134.03 L388.83,133.64 L389.29,133.25 L389.76,132.85 L390.22,132.46 L390.68,132.07 L391.14,131.68 L391.6,131.29 L392.07,130.9 L392.53,130.51 L393,130.12 L393.47,129.74 L393.93,129.35 L394.4,128.96 L394.87,128.57 L395.34,128.19 L395.81,127.8 L396.28,127.41 L396.75,127.03 L397.23,126.64 L397.7,126.26 L398.18,125.88 L398.65,125.49 L399.13,125.11 L399.6,124.73 L400.08,124.35 L400.56,123.96 L401.04,123.58 L401.52,123.2 L402,122.82 L402.48,122.44 L402.97,122.07 L403.45,121.69 L403.93,121.31 L404.42,120.94 L404.9,120.56 L405.39,120.19 L405.88,119.81 L406.37,119.44 L406.85,119.07 L407.34,118.69 L407.83,118.32 L408.32,117.95 L408.82,117.58 L409.31,117.22 L409.8,116.85 L410.3,116.48 L410.79,116.12 L411.29,115.75 L411.78,115.39 L412.28,115.02 L412.78,114.66 L413.28,114.3 L413.78,113.94 L414.28,113.58 L414.78,113.22 L415.28,112.87 L415.78,112.51 L416.29,112.15 L416.79,111.8 L417.29,111.45 L417.8,111.1 L418.31,110.74 L418.81,110.4 L419.32,110.05 L419.83,109.7 L420.34,109.35 L420.85,109.01 L421.36,108.66 L421.87,108.32 L422.38,107.98 L422.89,107.64 L423.41,107.3 L423.92,106.96 L424.44,106.63 L424.95,106.29 L425.47,105.96 L425.98,105.63 L426.5,105.3 L427.02,104.97 L427.54,104.64 L428.06,104.31 L428.58,103.99 L429.1,103.66 L429.62,103.34 L430.15,103.02 L430.67,102.7 L431.19,102.38 L431.72,102.07 L432.24,101.75 L432.77,101.44 L433.3,101.13 L433.82,100.82 L434.35,100.51 L434.88,100.2 L435.41,99.89 L435.94,99.59 L436.47,99.29 L437,98.98 L437.53,98.68 L438.06,98.38 L438.6,98.08 L439.13,97.78 L439.66,97.49 L440.19,97.19 L440.73,96.9 L441.26,96.6 L441.79,96.31 L442.33,96.01 L442.86,95.72 L443.4,95.43 L443.93,95.14 L444.47,94.85 L445,94.55 L445.54,94.26 L446.07,93.97 L446.6,93.68 L447.14,93.39 L447.67,93.1 L448.21,92.81 L448.74,92.52 L449.27,92.23 L449.81,91.94 L450.34,91.65 L450.87,91.36 L451.41,91.07 L451.94,90.78 L452.47,90.49 L453,90.19 L453.53,89.9 L454.06,89.61 L454.59,89.31 L455.12,89.02 L455.65,88.72 L456.18,88.43 L456.71,88.13 L457.23,87.83 L457.76,87.53 L458.28,87.23 L458.81,86.93 L459.33,86.63 L459.85,86.33 L460.38,86.02 L460.9,85.72 L461.42,85.41 L461.94,85.1 L462.46,84.79 L462.97,84.48 L463.49,84.17 L464.01,83.85 L464.52,83.54 L465.03,83.22 L465.54,82.9 L466.06,82.58 L466.56,82.25 L467.07,81.93 L467.58,81.6 L468.09,81.27 L468.59,80.94 L469.09,80.6 L469.59,80.27 L470.09,79.93 L470.59,79.59 L471.09,79.24 L471.59,78.9 L472.08,78.55 L472.57,78.2 L473.06,77.85 L473.55,77.49 L474.04,77.13 L474.53,76.77 L475.01,76.41 L475.5,76.05 L475.98,75.68 L476.46,75.31 L476.94,74.94 L477.42,74.56 L477.89,74.19 L478.37,73.81 L478.84,73.43 L479.31,73.05 L479.78,72.66 L480.25,72.28 L480.72,71.89 L481.19,71.5 L481.65,71.11 L482.12,70.71 L482.58,70.32 L483.04,69.92 L483.5,69.52 L483.96,69.12 L484.42,68.72 L484.88,68.31 L485.33,67.91 L485.79,67.5 L486.24,67.09 L486.69,66.68 L487.14,66.26 L487.59,65.85 L488.04,65.43 L488.48,65.01 L488.93,64.6 L489.37,64.17 L489.81,63.75 L490.26,63.33 L490.7,62.9 L491.14,62.48 L491.57,62.05 L492.01,61.62 L492.45,61.19 L492.88,60.76 L493.32,60.32 L493.75,59.89 L494.18,59.45 L494.61,59.02 L495.04,58.58 L495.47,58.14 L495.9,57.7 L496.32,57.26 L496.75,56.81 L497.17,56.37 L497.59,55.93 L498.02,55.48 L498.44,55.03 L498.86,54.59 L499.28,54.14 L499.7,53.69 L500.11,53.24 L500.53,52.79 L500.94,52.34 L501.36,51.88 L501.77,51.43 L502.18,50.98 L502.6,50.52 L503.01,50.07 L503.42,49.61 L503.83,49.15 L504.23,48.7 L504.64,48.24 L505.05,47.78 L505.45,47.32 L505.86,46.86 L506.26,46.4 L506.67,45.94 L507.07,45.48 L507.47,45.02 L507.87,44.56 L508.27,44.1 L508.67,43.64 L509.07,43.17 L509.47,42.71 L509.86,42.25 L510.26,41.79 L510.66,41.32 L511.05,40.86 L511.44,40.4 L511.84,39.93 L512.23,39.47 L512.62,39 L513.01,38.54 L513.41,38.08 L513.8,37.61 L514.19,37.15 L514.57,36.69 L514.96,36.22 L515.35,35.76 L515.74,35.3 L516.12,34.83 L516.51,34.37 L516.89,33.91 L517.28,33.44 L517.66,32.98 L518.05,32.52 L518.43,32.06 L518.81,31.6 L519.2,31.14 L519.58,30.68 L519.96,30.22" stroke="#008b00" stroke-width="2.1"/>
<path d="M126.81,255.8 L126.93,255.22 L127.05,254.64 L127.16,254.05 L127.27,253.47 L127.37,252.89 L127.47,252.3 L127.57,251.71 L127.66,251.13 L127.75,250.54 L127.84,249.95 L127.92,249.36 L127.99,248.78 L128.07,248.19 L128.14,247.6 L128.21,247 L128.27,246.41 L128.33,245.82 L128.39,245.23 L128.44,244.63 L128.5,244.04 L128.55,243.44 L128.59,242.85 L128.64,242.25 L128.68,241.65 L128.72,241.06 L128.76,240.46 L128.79,239.86 L128.83,239.26 L128.86,238.66 L128.89,238.06 L128.92,237.46 L128.95,236.86 L128.97,236.26 L129,235.65 L129.02,235.05 L129.04,234.45 L129.06,233.84 L129.08,233.24 L129.1,232.63 L129.12,232.02 L129.14,231.42 L129.16,230.81 L129.17,230.2 L129.19,229.6 L129.2,228.99 L129.22,228.38 L129.24,227.77 L129.25,227.16 L129.27,226.55 L129.28,225.94 L129.3,225.33 L129.32,224.71 L129.34,224.1 L129.35,223.49 L129.37,222.88 L129.39,222.26 L129.41,221.65 L129.43,221.03 L129.46,220.42 L129.48,219.8 L129.51,219.19 L129.53,218.57 L129.56,217.96 L129.59,217.34 L129.63,216.72 L129.66,216.1 L129.7,215.49 L129.73,214.87 L129.77,214.25 L129.82,213.63 L129.86,213.01 L129.91,212.39 L129.96,211.77 L130.01,211.15 L130.06,210.53 L130.12,209.91 L130.18,209.29 L130.25,208.67 L130.31,208.04 L130.38,207.42 L130.46,206.8 L130.53,206.18 L130.61,205.55 L130.7,204.93 L130.79,204.31 L130.88,203.68 L130.98,203.06 L131.08,202.43 L131.18,201.81 L131.29,201.19 L131.4,200.56 L131.52,199.93 L131.64,199.31 L131.77,198.68 L131.9,198.06 L132.03,197.43 L132.17,196.8 L132.32,196.18 L132.47,195.55 L132.63,194.93 L132.79,194.3 L132.96,193.67 L133.13,193.05 L133.31,192.43 L133.49,191.81 L133.68,191.19 L133.87,190.57 L134.07,189.96 L134.28,189.35 L134.49,188.74 L134.7,188.13 L134.92,187.53 L135.15,186.93 L135.39,186.34 L135.63,185.75 L135.87,185.17 L136.12,184.59 L136.38,184.01 L136.65,183.45 L136.92,182.88 L137.19,182.33 L137.48,181.78 L137.77,181.23 L138.06,180.7 L138.36,180.17 L138.67,179.65 L138.99,179.13 L139.31,178.62 L139.64,178.13 L139.97,177.64 L140.31,177.16 L140.66,176.69 L141.01,176.22 L141.38,175.77 L141.75,175.33 L142.12,174.9 L142.5,174.48 L142.89,174.07 L143.29,173.67 L143.7,173.28 L144.11,172.9 L144.53,172.54 L144.95,172.18 L145.38,171.84 L145.83,171.52 L146.27,171.2 L146.73,170.9 L147.19,170.61 L147.66,170.33 L148.13,170.06 L148.62,169.81 L149.11,169.57 L149.6,169.34 L150.1,169.12 L150.61,168.91 L151.12,168.71 L151.64,168.52 L152.16,168.35 L152.69,168.18 L153.22,168.03 L153.76,167.88 L154.31,167.75 L154.86,167.62 L155.41,167.51 L155.97,167.4 L156.53,167.31 L157.09,167.22 L157.66,167.14 L158.24,167.08 L158.81,167.02 L159.4,166.96 L159.98,166.92 L160.57,166.89 L161.16,166.86 L161.75,166.84 L162.35,166.83 L162.94,166.83 L163.55,166.84 L164.15,166.85 L164.75,166.87 L165.36,166.9 L165.97,166.93 L166.58,166.97 L167.19,167.02 L167.81,167.07 L168.42,167.13 L169.04,167.2 L169.65,167.27 L170.27,167.35 L170.89,167.43 L171.51,167.52 L172.13,167.61 L172.75,167.71 L173.37,167.82 L173.98,167.92 L174.6,168.04 L175.22,168.16 L175.84,168.28 L176.46,168.41 L177.07,168.54 L177.69,168.67 L178.3,168.81 L178.91,168.95 L179.52,169.1 L180.13,169.25 L180.74,169.4 L181.35,169.56 L181.95,169.71 L182.56,169.88 L183.16,170.04 L183.76,170.21 L184.36,170.38 L184.96,170.56 L185.55,170.73 L186.15,170.91 L186.74,171.1 L187.34,171.28 L187.93,171.47 L188.52,171.66 L189.11,171.86 L189.7,172.05 L190.28,172.25 L190.87,172.46 L191.45,172.66 L192.04,172.87 L192.62,173.08 L193.2,173.29 L193.78,173.5 L194.36,173.72 L194.94,173.93 L195.52,174.15 L196.09,174.38 L196.67,174.6 L197.24,174.83 L197.81,175.06 L198.38,175.28 L198.95,175.52 L199.52,175.75 L200.09,175.98 L200.66,176.22 L201.23,176.46 L201.79,176.7 L202.36,176.94 L202.92,177.18 L203.49,177.43 L204.05,177.67 L204.61,177.92 L205.17,178.17 L205.73,178.42 L206.29,178.67 L206.85,178.92 L207.41,179.17 L207.96,179.43 L208.52,179.68 L209.08,179.94 L209.63,180.19 L210.18,180.45 L210.74,180.71 L211.29,180.96 L211.84,181.22 L212.39,181.48 L212.94,181.74 L213.49,182 L214.04,182.27 L214.59,182.53 L215.14,182.79 L215.69,183.05 L216.24,183.31 L216.78,183.58 L217.33,183.84 L217.87,184.1 L218.42,184.36 L218.96,184.63 L219.51,184.89 L220.05,185.15 L220.59,185.41 L221.14,185.68 L221.68,185.94 L222.22,186.2 L222.76,186.46 L223.3,186.72 L223.85,186.98 L224.39,187.24 L224.93,187.5 L225.47,187.76 L226.01,188.02 L226.55,188.28 L227.08,188.54 L227.62,188.8 L228.16,189.06 L228.7,189.31 L229.24,189.57 L229.77,189.83 L230.31,190.09 L230.85,190.35 L231.38,190.62 L231.92,190.88 L232.45,191.14 L232.99,191.4 L233.52,191.66 L234.06,191.93 L234.59,192.19 L235.13,192.46 L235.66,192.72 L236.19,192.99 L236.73,193.26 L237.26,193.53 L237.79,193.8 L238.32,194.07 L238.85,194.35 L239.39,194.62 L239.92,194.9 L240.45,195.17 L240.98,195.45 L241.51,195.73 L242.04,196.02 L242.57,196.3 L243.1,196.58 L243.62,196.87 L244.15,197.16 L244.68,197.45 L245.21,197.75 L245.74,198.04 L246.26,198.34 L246.79,198.64 L247.32,198.94 L247.85,199.25 L248.37,199.55 L248.9,199.86 L249.42,200.17 L249.95,200.49" stroke="#008b00" stroke-width="2.6" stroke-linecap="round"/>
</g>
<path d="M71.3,346.5 v-9.5 M71.3,1.5 v9.5 M127.17,346.5 v-9.5 M127.17,1.5 v9.5 M183.05,346.5 v-9.5 M183.05,1.5 v9.5 M238.92,346.5 v-9.5 M238.92,1.5 v9.5 M294.8,346.5 v-9.5 M294.8,1.5 v9.5 M350.67,346.5 v-9.5 M350.67,1.5 v9.5 M406.55,346.5 v-9.5 M406.55,1.5 v9.5 M462.42,346.5 v-9.5 M462.42,1.5 v9.5 M518.3,346.5 v-9.5 M518.3,1.5 v9.5 M71.3,335.25 h6.8 M518.3,335.25 h-6.8 M71.3,327.26 h6.8 M518.3,327.26 h-6.8 M71.3,321.07 h6.8 M518.3,321.07 h-6.8 M71.3,316.01 h6.8 M518.3,316.01 h-6.8 M71.3,311.73 h6.8 M518.3,311.73 h-6.8 M71.3,308.02 h6.8 M518.3,308.02 h-6.8 M71.3,304.75 h6.8 M518.3,304.75 h-6.8 M71.3,301.83 h9.5 M518.3,301.83 h-9.5 M71.3,282.59 h6.8 M518.3,282.59 h-6.8 M71.3,271.33 h6.8 M518.3,271.33 h-6.8 M71.3,263.35 h6.8 M518.3,263.35 h-6.8 M71.3,257.15 h6.8 M518.3,257.15 h-6.8 M71.3,252.09 h6.8 M518.3,252.09 h-6.8 M71.3,247.81 h6.8 M518.3,247.81 h-6.8 M71.3,244.11 h6.8 M518.3,244.11 h-6.8 M71.3,240.84 h6.8 M518.3,240.84 h-6.8 M71.3,237.91 h9.5 M518.3,237.91 h-9.5 M71.3,218.67 h6.8 M518.3,218.67 h-6.8 M71.3,207.42 h6.8 M518.3,207.42 h-6.8 M71.3,199.43 h6.8 M518.3,199.43 h-6.8 M71.3,193.24 h6.8 M518.3,193.24 h-6.8 M71.3,188.18 h6.8 M518.3,188.18 h-6.8 M71.3,183.9 h6.8 M518.3,183.9 h-6.8 M71.3,180.19 h6.8 M518.3,180.19 h-6.8 M71.3,176.92 h6.8 M518.3,176.92 h-6.8 M71.3,174 h9.5 M518.3,174 h-9.5 M71.3,154.76 h6.8 M518.3,154.76 h-6.8 M71.3,143.51 h6.8 M518.3,143.51 h-6.8 M71.3,135.52 h6.8 M518.3,135.52 h-6.8 M71.3,129.33 h6.8 M518.3,129.33 h-6.8 M71.3,124.27 h6.8 M518.3,124.27 h-6.8 M71.3,119.99 h6.8 M518.3,119.99 h-6.8 M71.3,116.28 h6.8 M518.3,116.28 h-6.8 M71.3,113.01 h6.8 M518.3,113.01 h-6.8 M71.3,110.09 h9.5 M518.3,110.09 h-9.5 M71.3,90.85 h6.8 M518.3,90.85 h-6.8 M71.3,79.59 h6.8 M518.3,79.59 h-6.8 M71.3,71.61 h6.8 M518.3,71.61 h-6.8 M71.3,65.41 h6.8 M518.3,65.41 h-6.8 M71.3,60.35 h6.8 M518.3,60.35 h-6.8 M71.3,56.07 h6.8 M518.3,56.07 h-6.8 M71.3,52.37 h6.8 M518.3,52.37 h-6.8 M71.3,49.1 h6.8 M518.3,49.1 h-6.8 M71.3,46.17 h9.5 M518.3,46.17 h-9.5 M71.3,26.93 h6.8 M518.3,26.93 h-6.8 M71.3,15.68 h6.8 M518.3,15.68 h-6.8 M71.3,7.69 h6.8 M518.3,7.69 h-6.8" stroke="#000" stroke-width="1.5" fill="none"/>
<rect x="71.3" y="1.5" width="447" height="345" fill="none" stroke="#000" stroke-width="1.5"/>
<g font-family="Liberation Sans, Arial, Helvetica, sans-serif" font-size="20" fill="#000">
<text transform="translate(71.8,365.6) scale(0.94,1)" text-anchor="middle">-0.1</text>
<text transform="translate(127.67,365.6) scale(0.94,1)" text-anchor="middle">0.0</text>
<text transform="translate(183.55,365.6) scale(0.94,1)" text-anchor="middle">0.1</text>
<text transform="translate(239.42,365.6) scale(0.94,1)" text-anchor="middle">0.2</text>
<text transform="translate(295.3,365.6) scale(0.94,1)" text-anchor="middle">0.3</text>
<text transform="translate(351.17,365.6) scale(0.94,1)" text-anchor="middle">0.4</text>
<text transform="translate(407.05,365.6) scale(0.94,1)" text-anchor="middle">0.5</text>
<text transform="translate(462.92,365.6) scale(0.94,1)" text-anchor="middle">0.6</text>
<text transform="translate(34,312.43) scale(0.93,1)">10</text>
<text x="54.6" y="300.63" font-size="12.5">-8</text>
<text transform="translate(34,248.51) scale(0.93,1)">10</text>
<text x="54.6" y="236.71" font-size="12.5">-7</text>
<text transform="translate(34,184.6) scale(0.93,1)">10</text>
<text x="54.6" y="172.8" font-size="12.5">-6</text>
<text transform="translate(34,120.69) scale(0.93,1)">10</text>
<text x="54.6" y="108.89" font-size="12.5">-5</text>
<text transform="translate(34,56.77) scale(0.93,1)">10</text>
<text x="54.6" y="44.97" font-size="12.5">-4</text>
</g>
<text x="296" y="386.2" text-anchor="middle" font-family="Liberation Sans, Arial, Helvetica, sans-serif" font-size="20.8">Voltage (V)</text>
<text transform="translate(23.2,174) rotate(-90)" text-anchor="middle" font-family="Liberation Sans, Arial, Helvetica, sans-serif" font-size="20.8">Current Density (A/μm<tspan font-size="14" dy="-11.5">2</tspan><tspan dy="11.5">)</tspan></text>
<rect x="148.3" y="16.2" width="179" height="93" fill="#fff" stroke="#000" stroke-width="1.5"/>
<circle cx="171.8" cy="28.2" r="3.6" fill="none" stroke="#000" stroke-width="1.8"/>
<path d="M154.7,45 H189" stroke="#000" stroke-width="2.8" stroke-dasharray="14.4 9.1"/>
<path d="M155,62.1 H189" stroke="#ff0000" stroke-width="2.1"/>
<path d="M155,80.3 H189" stroke="#000" stroke-width="2.1"/>
<path d="M155,98.6 H189" stroke="#008b00" stroke-width="2.1"/>
<g font-family="Liberation Sans, Arial, Helvetica, sans-serif" font-size="15" font-weight="bold" fill="#000">
<text x="199" y="31.9">exp 300K</text>
<text x="199" y="50.6">BTBT</text>
<text x="199" y="67.2">BTBT+DAT, S=8.0</text>
<text x="199" y="84.9">BTBT+DAT, S=6.8</text>
<text x="199" y="102.7">BTBT+DAT, S=6.0</text>
</g>
</svg>
</body></html>
